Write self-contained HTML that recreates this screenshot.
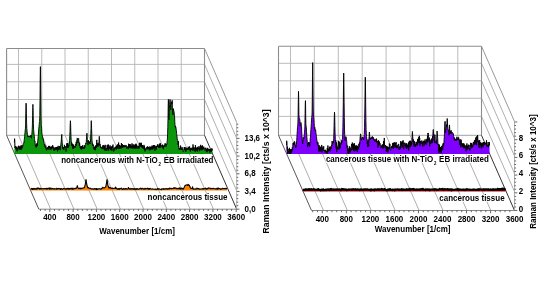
<!DOCTYPE html>
<html><head><meta charset="utf-8"><style>html,body{margin:0;padding:0;background:#fff;width:550px;height:281px;overflow:hidden}svg{display:block}text{fill:#000}</style></head>
<body><svg width="550" height="281" viewBox="0 0 550 281" font-family="&quot;Liberation Sans&quot;, Arial, sans-serif" font-weight="bold">
<rect width="550" height="281" fill="#fff"/>
<line x1="18.5" y1="48.5" x2="18.5" y2="135.3" stroke="#b4b4b4" stroke-width="0.9"/>
<line x1="41.75" y1="48.5" x2="41.75" y2="135.3" stroke="#b4b4b4" stroke-width="0.9"/>
<line x1="65" y1="48.5" x2="65" y2="135.3" stroke="#b4b4b4" stroke-width="0.9"/>
<line x1="88.25" y1="48.5" x2="88.25" y2="135.3" stroke="#b4b4b4" stroke-width="0.9"/>
<line x1="111.5" y1="48.5" x2="111.5" y2="135.3" stroke="#b4b4b4" stroke-width="0.9"/>
<line x1="134.75" y1="48.5" x2="134.75" y2="135.3" stroke="#b4b4b4" stroke-width="0.9"/>
<line x1="158" y1="48.5" x2="158" y2="135.3" stroke="#b4b4b4" stroke-width="0.9"/>
<line x1="181.25" y1="48.5" x2="181.25" y2="135.3" stroke="#b4b4b4" stroke-width="0.9"/>
<line x1="6.6" y1="116.9" x2="204.5" y2="116.9" stroke="#b4b4b4" stroke-width="0.9"/>
<line x1="6.6" y1="99.5" x2="204.5" y2="99.5" stroke="#b4b4b4" stroke-width="0.9"/>
<line x1="6.6" y1="81.8" x2="204.5" y2="81.8" stroke="#b4b4b4" stroke-width="0.9"/>
<line x1="6.6" y1="64.4" x2="204.5" y2="64.4" stroke="#b4b4b4" stroke-width="0.9"/>
<line x1="6.6" y1="135.3" x2="204.5" y2="135.3" stroke="#b4b4b4" stroke-width="1.2"/>
<line x1="18.5" y1="135.3" x2="50.7" y2="209.2" stroke="#9a9a9a" stroke-width="0.8"/>
<line x1="41.75" y1="135.3" x2="73.95" y2="209.2" stroke="#9a9a9a" stroke-width="0.8"/>
<line x1="65" y1="135.3" x2="97.2" y2="209.2" stroke="#9a9a9a" stroke-width="0.8"/>
<line x1="88.25" y1="135.3" x2="120.45" y2="209.2" stroke="#9a9a9a" stroke-width="0.8"/>
<line x1="111.5" y1="135.3" x2="143.7" y2="209.2" stroke="#9a9a9a" stroke-width="0.8"/>
<line x1="134.75" y1="135.3" x2="166.95" y2="209.2" stroke="#9a9a9a" stroke-width="0.8"/>
<line x1="158" y1="135.3" x2="190.2" y2="209.2" stroke="#9a9a9a" stroke-width="0.8"/>
<line x1="181.25" y1="135.3" x2="213.45" y2="209.2" stroke="#9a9a9a" stroke-width="0.8"/>
<line x1="204.5" y1="116.9" x2="236.7" y2="190.8" stroke="#9a9a9a" stroke-width="0.8"/>
<line x1="204.5" y1="99.5" x2="236.7" y2="173.4" stroke="#9a9a9a" stroke-width="0.8"/>
<line x1="204.5" y1="81.8" x2="236.7" y2="155.7" stroke="#9a9a9a" stroke-width="0.8"/>
<line x1="204.5" y1="64.4" x2="236.7" y2="138.3" stroke="#9a9a9a" stroke-width="0.8"/>
<line x1="6.6" y1="48.5" x2="204.5" y2="48.5" stroke="#8c8c8c" stroke-width="1.1"/>
<line x1="6.6" y1="48.5" x2="6.6" y2="135.3" stroke="#8c8c8c" stroke-width="1.1"/>
<line x1="204.5" y1="48.5" x2="204.5" y2="135.3" stroke="#8c8c8c" stroke-width="1.1"/>
<line x1="204.5" y1="48.5" x2="236.7" y2="122.4" stroke="#8c8c8c" stroke-width="0.9"/>
<line x1="6.6" y1="135.3" x2="38.8" y2="209.2" stroke="#444" stroke-width="0.9"/>
<line x1="204.5" y1="135.3" x2="236.7" y2="209.2" stroke="#333" stroke-width="1.0"/>
<line x1="290.5" y1="46.3" x2="290.5" y2="135.3" stroke="#b4b4b4" stroke-width="0.9"/>
<line x1="314.4" y1="46.3" x2="314.4" y2="135.3" stroke="#b4b4b4" stroke-width="0.9"/>
<line x1="338.3" y1="46.3" x2="338.3" y2="135.3" stroke="#b4b4b4" stroke-width="0.9"/>
<line x1="362.2" y1="46.3" x2="362.2" y2="135.3" stroke="#b4b4b4" stroke-width="0.9"/>
<line x1="386.1" y1="46.3" x2="386.1" y2="135.3" stroke="#b4b4b4" stroke-width="0.9"/>
<line x1="410" y1="46.3" x2="410" y2="135.3" stroke="#b4b4b4" stroke-width="0.9"/>
<line x1="433.9" y1="46.3" x2="433.9" y2="135.3" stroke="#b4b4b4" stroke-width="0.9"/>
<line x1="457.8" y1="46.3" x2="457.8" y2="135.3" stroke="#b4b4b4" stroke-width="0.9"/>
<line x1="278.5" y1="116.4" x2="481.5" y2="116.4" stroke="#b4b4b4" stroke-width="0.9"/>
<line x1="278.5" y1="98.3" x2="481.5" y2="98.3" stroke="#b4b4b4" stroke-width="0.9"/>
<line x1="278.5" y1="80.8" x2="481.5" y2="80.8" stroke="#b4b4b4" stroke-width="0.9"/>
<line x1="278.5" y1="63.3" x2="481.5" y2="63.3" stroke="#b4b4b4" stroke-width="0.9"/>
<line x1="278.5" y1="135.3" x2="481.5" y2="135.3" stroke="#b4b4b4" stroke-width="1.2"/>
<line x1="290.5" y1="135.3" x2="323.5" y2="210.5" stroke="#9a9a9a" stroke-width="0.8"/>
<line x1="314.4" y1="135.3" x2="347.4" y2="210.5" stroke="#9a9a9a" stroke-width="0.8"/>
<line x1="338.3" y1="135.3" x2="371.3" y2="210.5" stroke="#9a9a9a" stroke-width="0.8"/>
<line x1="362.2" y1="135.3" x2="395.2" y2="210.5" stroke="#9a9a9a" stroke-width="0.8"/>
<line x1="386.1" y1="135.3" x2="419.1" y2="210.5" stroke="#9a9a9a" stroke-width="0.8"/>
<line x1="410" y1="135.3" x2="443" y2="210.5" stroke="#9a9a9a" stroke-width="0.8"/>
<line x1="433.9" y1="135.3" x2="466.9" y2="210.5" stroke="#9a9a9a" stroke-width="0.8"/>
<line x1="457.8" y1="135.3" x2="490.8" y2="210.5" stroke="#9a9a9a" stroke-width="0.8"/>
<line x1="481.5" y1="116.4" x2="514.5" y2="191.6" stroke="#9a9a9a" stroke-width="0.8"/>
<line x1="481.5" y1="98.3" x2="514.5" y2="173.5" stroke="#9a9a9a" stroke-width="0.8"/>
<line x1="481.5" y1="80.8" x2="514.5" y2="156" stroke="#9a9a9a" stroke-width="0.8"/>
<line x1="481.5" y1="63.3" x2="514.5" y2="138.5" stroke="#9a9a9a" stroke-width="0.8"/>
<line x1="278.5" y1="46.3" x2="481.5" y2="46.3" stroke="#8c8c8c" stroke-width="1.1"/>
<line x1="278.5" y1="46.3" x2="278.5" y2="135.3" stroke="#8c8c8c" stroke-width="1.1"/>
<line x1="481.5" y1="46.3" x2="481.5" y2="135.3" stroke="#8c8c8c" stroke-width="1.1"/>
<line x1="481.5" y1="46.3" x2="514.5" y2="121.5" stroke="#8c8c8c" stroke-width="0.9"/>
<line x1="278.5" y1="135.3" x2="311.5" y2="210.5" stroke="#444" stroke-width="0.9"/>
<line x1="481.5" y1="135.3" x2="514.5" y2="210.5" stroke="#333" stroke-width="1.0"/>
<path d="M14.4,154.1 14.4,142.38 14.6,138.64 14.8,141.08 15,147.76 15.2,146.83 15.4,147.23 15.6,146.11 15.8,149.15 16,147.82 16.2,146.87 16.4,148.69 16.6,148.59 16.8,146.74 17,151.21 17.2,147.81 17.4,150.04 17.6,147.96 17.8,150.09 18,147.82 18.2,148.29 18.4,145.77 18.6,146.98 18.8,148 19,147.41 19.2,145.94 19.4,146.58 19.6,149.53 19.8,147.76 20,148.79 20.2,147.26 20.4,149.87 20.6,148.92 20.8,145.51 21,149.99 21.2,148.22 21.4,147.11 21.6,146.26 21.8,148.54 22,144.95 22.2,147.48 22.4,147.5 22.6,146.6 22.8,146.44 23,146.14 23.2,145.18 23.4,144.67 23.6,143.87 23.8,142.37 24,142.64 24.2,139.59 24.4,139.23 24.6,136.35 24.8,135.06 25,132.32 25.2,130.24 25.4,128.88 25.6,124.2 25.8,112.99 26,103.42 26.1,103.1 26.2,103.83 26.4,113.13 26.6,122.69 26.8,128.59 27,130.29 27.2,132.31 27.4,134.34 27.6,136.52 27.8,137.08 28,136.49 28.2,136.7 28.4,135.9 28.6,136.39 28.8,137.08 29,136.38 29.2,136.07 29.4,136.78 29.6,136.46 29.8,136.38 30,136.76 30.2,135.87 30.4,135.89 30.6,136.85 30.8,135.33 31,136.6 31.2,137.76 31.4,138.22 31.6,136.24 31.8,134.38 32,132.14 32.2,129.58 32.4,124.9 32.6,115.78 32.8,107.7 32.9,104.33 33,107.38 33.2,115.24 33.4,123.54 33.6,129.81 33.8,131.32 34,134.07 34.2,134.98 34.4,138.17 34.6,139.43 34.8,141.71 35,141.33 35.2,144.42 35.4,146.18 35.6,146.36 35.8,144.65 36,145.31 36.2,147.54 36.4,144.44 36.6,143.62 36.8,144.76 37,146.08 37.2,143.52 37.4,145.95 37.6,141.81 37.8,140.83 38,138.45 38.2,136.41 38.4,134.11 38.6,130.13 38.8,128.37 39,126.4 39.2,124.42 39.4,121.89 39.6,121.43 39.8,115.36 40,99.36 40.2,78.59 40.4,66.61 40.6,78.89 40.8,100.07 41,116.3 41.2,124.31 41.4,126.4 41.6,128.37 41.8,132.34 42,134.13 42.2,135.48 42.4,135.56 42.6,136.74 42.8,137.9 43,137.81 43.2,139.56 43.4,139.32 43.6,141.92 43.8,141.73 44,142.45 44.2,144.41 44.4,144.1 44.6,145.34 44.8,146.24 45,144.71 45.2,147.15 45.4,146.9 45.6,148.25 45.8,146.3 46,147.85 46.2,147.69 46.4,149.82 46.6,150.33 46.8,149.4 47,148.05 47.2,148.59 47.4,147.61 47.6,148.73 47.8,147.33 48,149.24 48.2,149.71 48.4,149.36 48.6,146.27 48.8,148.04 49,145.8 49.2,147.19 49.4,146.31 49.6,147.92 49.8,146.44 50,146.35 50.2,149.98 50.4,147.65 50.6,147 50.8,148.64 51,148.04 51.2,148.99 51.4,146.51 51.6,149.33 51.8,147.04 52,146.77 52.2,148.25 52.4,148.04 52.6,145.1 52.8,145.83 53,147.28 53.2,146.75 53.4,148.22 53.6,149.46 53.8,150.43 54,147.32 54.2,147.98 54.4,150.27 54.6,150.09 54.8,148.44 55,150.26 55.2,148.67 55.4,148.21 55.6,147.37 55.8,148.88 56,149.29 56.2,147.39 56.4,147.03 56.6,149.79 56.8,147.17 57,149.08 57.2,146.93 57.4,148.14 57.6,151.32 57.8,148.26 58,146.43 58.2,145.83 58.4,149.87 58.6,148.18 58.8,149.61 59,148.77 59.2,148.53 59.4,146.2 59.6,147.72 59.8,146.75 60,149.12 60.2,150.16 60.4,146.09 60.6,146.14 60.8,145.11 61,142.93 61.2,142.03 61.4,138.79 61.6,135.84 61.7,134.46 61.8,134.42 62,139.36 62.2,142.7 62.4,145.06 62.6,148.42 62.8,148.5 63,147.52 63.2,148.55 63.4,147.03 63.6,147.69 63.8,150.01 64,147.28 64.2,147.22 64.4,144.87 64.6,147.7 64.8,147.34 65,147.6 65.2,147.12 65.4,147.28 65.6,146.34 65.8,148.88 66,151.52 66.2,150.44 66.4,148.47 66.6,147.35 66.8,143.38 67,145.71 67.2,148.08 67.4,143.07 67.6,146.93 67.8,143.56 68,144.57 68.2,147.84 68.4,147.2 68.6,145.5 68.8,146.23 69,144.36 69.2,144.06 69.4,142.97 69.6,140.76 69.8,135.53 70,131.05 70.2,124.46 70.4,120.73 70.6,123.64 70.8,131.28 71,136.55 71.2,140.38 71.4,141.38 71.6,145.05 71.8,142.8 72,146.12 72.2,144.51 72.4,143.92 72.6,146.82 72.8,148.49 73,145.77 73.2,148.23 73.4,148.91 73.6,144.49 73.8,146.66 74,146.19 74.2,146.76 74.4,147.43 74.6,147.36 74.8,146.09 75,146.21 75.2,147.55 75.4,147.48 75.6,147.57 75.8,143.84 76,145.85 76.2,141.83 76.4,143.21 76.6,143.94 76.8,140.14 77,140.22 77.2,138.64 77.3,137.97 77.4,138.07 77.6,140.22 77.8,142.16 77.9,142.04 78,142.96 78.2,139.4 78.4,139.33 78.5,138.82 78.6,138.27 78.8,140.63 79,142.11 79.2,143.62 79.4,145.78 79.6,142.74 79.8,145.38 80,146.37 80.2,147.55 80.4,146.77 80.6,149.1 80.8,148.89 81,145.95 81.2,147.2 81.4,148.49 81.6,149.61 81.8,146.15 82,148.93 82.2,147.37 82.4,147.88 82.6,145.95 82.8,145.11 83,148.24 83.2,147.35 83.4,147.29 83.6,147.41 83.8,148.51 84,146.79 84.2,147.46 84.4,148.73 84.6,145.4 84.8,147.69 85,145.19 85.2,144.84 85.4,144.5 85.6,144.41 85.8,143.23 86,143.92 86.2,142.13 86.4,139.79 86.6,136.87 86.8,133.37 86.9,133.19 87,133.35 87.2,136.81 87.4,140.92 87.6,142.29 87.8,144.33 88,143.91 88.2,145.08 88.4,140.17 88.6,142.41 88.8,143.01 89,142.49 89.2,141.86 89.4,142.2 89.6,141.51 89.8,143.88 90,142.84 90.2,143.28 90.4,142.28 90.6,138.74 90.8,133.46 91,128.61 91.2,121.81 91.3,120.64 91.4,122.73 91.6,128.62 91.8,134.33 92,140.35 92.2,142.07 92.4,145.17 92.6,143.59 92.8,144.16 93,145.91 93.2,144.66 93.4,146.94 93.6,147.04 93.8,148.32 94,147.61 94.2,149.79 94.4,148.76 94.6,146.66 94.8,146.92 95,149.97 95.2,146.74 95.4,150.23 95.6,145.6 95.8,147.35 96,145.57 96.2,145.29 96.4,148.07 96.6,144.81 96.8,139.85 97,146.43 97.2,143.15 97.4,146.01 97.6,145.25 97.8,145.65 98,146.83 98.2,143.45 98.4,143.51 98.6,145.11 98.8,143.02 99,141.33 99.2,137.98 99.3,136.27 99.4,137.35 99.6,140.85 99.8,145.62 100,144 100.2,145.1 100.4,145.48 100.6,147.89 100.8,147.59 101,146.81 101.2,148.14 101.4,148.16 101.6,147.39 101.8,147.77 102,149.02 102.2,148.12 102.4,147.75 102.6,148.91 102.8,145.32 103,146.89 103.2,148.57 103.4,146.07 103.6,146.33 103.8,144.98 104,147.55 104.2,149.78 104.4,146.23 104.6,148.66 104.8,150.45 105,147.58 105.2,144.84 105.4,148.87 105.6,148.89 105.8,150.71 106,149.43 106.2,148.63 106.4,148.25 106.6,150.84 106.8,150.63 107,147.17 107.2,145 107.4,149.22 107.6,146.79 107.8,145.3 108,148.78 108.2,144.35 108.4,147.08 108.6,150.63 108.8,146.82 109,146.46 109.2,148.42 109.4,147.61 109.6,147.31 109.8,148.22 110,145.3 110.2,148.61 110.4,149.42 110.6,148 110.8,146.46 111,150.15 111.2,149.62 111.4,148.7 111.6,146.55 111.8,150.74 112,149.26 112.2,148.52 112.4,145.93 112.6,147.74 112.8,145.83 113,144.61 113.2,148.43 113.4,148.77 113.6,151.44 113.8,150.14 114,148.14 114.2,148.97 114.4,150.23 114.6,147.97 114.8,148.27 115,147.19 115.2,148.49 115.4,147.79 115.6,148.03 115.8,146.81 116,146.37 116.2,149.59 116.4,148.74 116.6,145.88 116.8,145.45 117,148.12 117.2,147.83 117.4,144.39 117.6,146.81 117.8,148.37 118,147.36 118.2,148.84 118.4,146.06 118.6,142.51 118.8,146.08 119,144.86 119.2,147.09 119.4,148.83 119.6,145 119.8,147.29 120,148.21 120.2,145.94 120.4,145.74 120.6,147.41 120.8,148.57 121,145.98 121.2,146.98 121.4,143.06 121.6,145.94 121.8,147.8 122,147.42 122.2,144.64 122.4,144.04 122.6,147.52 122.8,147.4 123,146.92 123.2,146.09 123.4,145.3 123.6,146.35 123.8,145.22 124,147.26 124.2,145.81 124.4,146.23 124.6,146.09 124.8,146.74 125,144.91 125.2,146.96 125.4,146.01 125.6,146.41 125.8,146.38 126,146.18 126.2,145.26 126.4,146.45 126.6,147.02 126.8,148.59 127,146.22 127.2,146.53 127.4,147.19 127.6,147.88 127.8,147.19 128,146.92 128.2,148.2 128.4,149.02 128.6,143.76 128.8,146.54 129,145.93 129.2,147.47 129.4,144.08 129.6,147.72 129.8,147.3 130,147.5 130.2,147.85 130.4,144.29 130.6,147.81 130.8,147.64 131,146.72 131.2,148.37 131.4,147.97 131.6,145.73 131.8,146.73 132,143.39 132.2,146.68 132.4,145.78 132.6,148.43 132.8,147.83 133,147.77 133.2,144.25 133.4,148.37 133.6,148.01 133.8,145.56 134,147.77 134.2,147.75 134.4,146.95 134.6,145.44 134.8,148.9 135,146.59 135.2,144.08 135.4,146.61 135.6,146.11 135.8,148.47 136,143.68 136.2,148.24 136.4,146.54 136.6,144.66 136.8,146.34 137,147.15 137.2,148.22 137.4,148.63 137.6,147.79 137.8,145.79 138,146.7 138.2,146.15 138.4,148.25 138.6,148.51 138.8,146.48 139,148.32 139.2,145.34 139.4,142.79 139.6,144.15 139.8,145.89 140,146.75 140.2,145.44 140.4,145.98 140.6,143.83 140.8,142.79 141,145.99 141.2,146.55 141.4,142.9 141.6,147.27 141.8,146.33 142,145.81 142.2,145.52 142.4,148.14 142.6,145.03 142.8,147.18 143,148.28 143.2,146.8 143.4,147.35 143.6,149.01 143.8,146.09 144,144.89 144.2,149.35 144.4,146.13 144.6,149.52 144.8,148.56 145,151.32 145.2,149.05 145.4,148.57 145.6,149.42 145.8,149.17 146,149.67 146.2,148.53 146.4,147.19 146.6,148.5 146.8,148.73 147,149.15 147.2,148.34 147.4,146.39 147.6,147.29 147.8,149.25 148,146.93 148.2,147.91 148.4,146.92 148.6,148.18 148.8,147.54 149,149.19 149.2,147.95 149.4,150.35 149.6,149.48 149.8,146.42 150,148.14 150.2,148.01 150.4,147.24 150.6,150.06 150.8,147.29 151,148.7 151.2,146.56 151.4,147 151.6,148.06 151.8,149.36 152,145.71 152.2,145.52 152.4,147.05 152.6,149.36 152.8,146.8 153,146.61 153.2,147.63 153.4,148.53 153.6,145.04 153.8,146.28 154,147.59 154.2,147.82 154.4,145.19 154.6,146.3 154.8,150.96 155,148.75 155.2,149.21 155.4,146.45 155.6,145.85 155.8,146.35 156,146.27 156.2,147.61 156.4,149.51 156.6,146 156.8,146.46 157,146.97 157.2,145.69 157.4,146.42 157.6,144.33 157.8,145.19 158,146.77 158.2,146.97 158.4,146.6 158.6,147.55 158.8,144.8 159,144.6 159.2,145.31 159.4,147.67 159.6,145.92 159.8,143.57 160,146.5 160.2,147.77 160.4,143.27 160.6,145.91 160.8,145.18 161,145.38 161.2,145.33 161.4,145.32 161.6,145.69 161.8,145.94 162,147.2 162.2,146.17 162.4,144.92 162.6,144.63 162.8,148.11 163,146.17 163.2,145.73 163.4,149.24 163.6,146.47 163.8,146.84 164,147.04 164.2,145 164.4,146.49 164.6,144.56 164.8,144.25 165,143.39 165.2,143.28 165.4,144.23 165.6,145 165.8,144.21 166,146.8 166.2,143.96 166.4,144.81 166.6,144.81 166.8,144.14 167,142.66 167.2,140.86 167.4,138.96 167.6,133.38 167.8,127.45 168,118.38 168.2,105.33 168.4,99.42 168.6,106.7 168.8,117.73 169,119.84 169.2,112.82 169.4,108.3 169.6,104.84 169.8,101.4 170,99.43 170.2,100.53 170.4,104.03 170.6,107.81 170.8,109.88 171,105.4 171.2,103.91 171.4,101.97 171.6,101.82 171.8,102.32 172,104 172.2,100.28 172.4,107.46 172.6,113.45 172.8,114.8 173,112.66 173.2,111.42 173.4,108.58 173.6,110.19 173.8,110.39 174,111.56 174.2,112.98 174.4,115.15 174.6,117.31 174.8,121.78 175,124.92 175.2,126.33 175.4,127.36 175.5,126.25 175.6,126.84 175.8,126.77 176,127.91 176.2,130.03 176.4,130.59 176.6,133.4 176.8,134.87 177,136.57 177.2,138.78 177.4,140.29 177.6,140.38 177.8,140.56 178,142.37 178.2,144.75 178.4,141.29 178.6,146.66 178.8,146.13 179,148.38 179.2,149.61 179.4,148.15 179.6,149.45 179.8,149.33 180,148.78 180.2,149.71 180.4,149.41 180.6,145.56 180.8,147.14 181,146.95 181.2,148.46 181.4,148.2 181.6,149.91 181.8,149.26 182,147.57 182.2,147.22 182.4,149.22 182.6,148.74 182.8,149.42 183,149.23 183.2,151.55 183.4,151.55 183.6,150.95 183.8,150.76 184,150.24 184.2,147.15 184.4,148.07 184.6,147.57 184.8,149.84 185,147.02 185.2,148.51 185.4,148.77 185.6,150.82 185.8,151.82 186,147.72 186.2,147.85 186.4,148.7 186.6,148.96 186.8,150.07 187,148.55 187.2,149.72 187.4,149.32 187.6,148.13 187.8,149.49 188,148.86 188.2,146.74 188.4,146.99 188.6,148.9 188.8,148.34 189,148.83 189.2,149.89 189.4,148.64 189.6,146.38 189.8,147.2 190,149.05 190.2,150.75 190.4,151.49 190.6,148.06 190.8,148.62 191,150.09 191.2,149.41 191.4,149.95 191.6,148.29 191.8,148.89 192,147.7 192.2,148.41 192.4,150.06 192.6,150.52 192.8,149.06 193,144.38 193.2,149.1 193.4,148.93 193.6,146.97 193.8,149.91 194,149.32 194.2,150.76 194.4,148.23 194.6,147.62 194.8,147.85 195,148.53 195.2,151.86 195.4,145.12 195.6,148.94 195.8,148.52 196,149.09 196.2,149.83 196.4,147.79 196.6,147.54 196.8,149.37 197,151 197.2,147.99 197.4,151.53 197.6,146.88 197.8,147.18 198,148.95 198.2,148.18 198.4,148.69 198.6,149.32 198.8,148.74 199,146.02 199.2,148.94 199.4,151.15 199.6,147.69 199.8,148.71 200,148.6 200.2,149.68 200.4,148.07 200.6,144.84 200.8,148.28 201,147.5 201.2,150.37 201.4,146.01 201.6,145.89 201.8,148.94 202,148 202.2,147.29 202.4,145.39 202.6,149.94 202.8,146.97 203,147.31 203.2,148.76 203.4,147.25 203.6,148.09 203.8,146.64 204,149.21 204.2,148.45 204.4,148.36 204.6,149.56 204.8,150.58 205,150.45 205.2,149.9 205.4,149.4 205.6,147.77 205.8,148.3 206,150.95 206.2,150.56 206.4,151.44 206.6,149.12 206.8,151.42 207,152.23 207.2,147.8 207.4,151.28 207.6,148.65 207.8,148.15 208,148.58 208.2,149.34 208.4,149.59 208.6,150.95 208.8,148.98 209,149.29 209.2,150.86 209.4,149 209.6,150.44 209.8,152.56 210,150.99 210.2,148.95 210.4,150.23 210.6,150.39 210.8,148.97 211,151.97 211.2,149.65 211.4,149.65 211.6,149.43 211.8,148.3 212,150.73 212.2,149 212.4,148.92 L212.5,154.1Z" fill="#0c960c" stroke="none"/>
<path d="M14.4,142.38 L14.6,138.64 L14.8,141.08 L15,147.76 L15.2,146.83 L15.4,147.23 L15.6,146.11 L15.8,149.15 L16,147.82 L16.2,146.87 L16.4,148.69 L16.6,148.59 L16.8,146.74 L17,151.21 L17.2,147.81 L17.4,150.04 L17.6,147.96 L17.8,150.09 L18,147.82 L18.2,148.29 L18.4,145.77 L18.6,146.98 L18.8,148 L19,147.41 L19.2,145.94 L19.4,146.58 L19.6,149.53 L19.8,147.76 L20,148.79 L20.2,147.26 L20.4,149.87 L20.6,148.92 L20.8,145.51 L21,149.99 L21.2,148.22 L21.4,147.11 L21.6,146.26 L21.8,148.54 L22,144.95 L22.2,147.48 L22.4,147.5 L22.6,146.6 L22.8,146.44 L23,146.14 L23.2,145.18 L23.4,144.67 L23.6,143.87 L23.8,142.37 L24,142.64 L24.2,139.59 L24.4,139.23 L24.6,136.35 L24.8,135.06 L25,132.32 L25.2,130.24 L25.4,128.88 L25.6,124.2 L25.8,112.99 L26,103.42 L26.1,103.1 L26.2,103.83 L26.4,113.13 L26.6,122.69 L26.8,128.59 L27,130.29 L27.2,132.31 L27.4,134.34 L27.6,136.52 L27.8,137.08 L28,136.49 L28.2,136.7 L28.4,135.9 L28.6,136.39 L28.8,137.08 L29,136.38 L29.2,136.07 L29.4,136.78 L29.6,136.46 L29.8,136.38 L30,136.76 L30.2,135.87 L30.4,135.89 L30.6,136.85 L30.8,135.33 L31,136.6 L31.2,137.76 L31.4,138.22 L31.6,136.24 L31.8,134.38 L32,132.14 L32.2,129.58 L32.4,124.9 L32.6,115.78 L32.8,107.7 L32.9,104.33 L33,107.38 L33.2,115.24 L33.4,123.54 L33.6,129.81 L33.8,131.32 L34,134.07 L34.2,134.98 L34.4,138.17 L34.6,139.43 L34.8,141.71 L35,141.33 L35.2,144.42 L35.4,146.18 L35.6,146.36 L35.8,144.65 L36,145.31 L36.2,147.54 L36.4,144.44 L36.6,143.62 L36.8,144.76 L37,146.08 L37.2,143.52 L37.4,145.95 L37.6,141.81 L37.8,140.83 L38,138.45 L38.2,136.41 L38.4,134.11 L38.6,130.13 L38.8,128.37 L39,126.4 L39.2,124.42 L39.4,121.89 L39.6,121.43 L39.8,115.36 L40,99.36 L40.2,78.59 L40.4,66.61 L40.6,78.89 L40.8,100.07 L41,116.3 L41.2,124.31 L41.4,126.4 L41.6,128.37 L41.8,132.34 L42,134.13 L42.2,135.48 L42.4,135.56 L42.6,136.74 L42.8,137.9 L43,137.81 L43.2,139.56 L43.4,139.32 L43.6,141.92 L43.8,141.73 L44,142.45 L44.2,144.41 L44.4,144.1 L44.6,145.34 L44.8,146.24 L45,144.71 L45.2,147.15 L45.4,146.9 L45.6,148.25 L45.8,146.3 L46,147.85 L46.2,147.69 L46.4,149.82 L46.6,150.33 L46.8,149.4 L47,148.05 L47.2,148.59 L47.4,147.61 L47.6,148.73 L47.8,147.33 L48,149.24 L48.2,149.71 L48.4,149.36 L48.6,146.27 L48.8,148.04 L49,145.8 L49.2,147.19 L49.4,146.31 L49.6,147.92 L49.8,146.44 L50,146.35 L50.2,149.98 L50.4,147.65 L50.6,147 L50.8,148.64 L51,148.04 L51.2,148.99 L51.4,146.51 L51.6,149.33 L51.8,147.04 L52,146.77 L52.2,148.25 L52.4,148.04 L52.6,145.1 L52.8,145.83 L53,147.28 L53.2,146.75 L53.4,148.22 L53.6,149.46 L53.8,150.43 L54,147.32 L54.2,147.98 L54.4,150.27 L54.6,150.09 L54.8,148.44 L55,150.26 L55.2,148.67 L55.4,148.21 L55.6,147.37 L55.8,148.88 L56,149.29 L56.2,147.39 L56.4,147.03 L56.6,149.79 L56.8,147.17 L57,149.08 L57.2,146.93 L57.4,148.14 L57.6,151.32 L57.8,148.26 L58,146.43 L58.2,145.83 L58.4,149.87 L58.6,148.18 L58.8,149.61 L59,148.77 L59.2,148.53 L59.4,146.2 L59.6,147.72 L59.8,146.75 L60,149.12 L60.2,150.16 L60.4,146.09 L60.6,146.14 L60.8,145.11 L61,142.93 L61.2,142.03 L61.4,138.79 L61.6,135.84 L61.7,134.46 L61.8,134.42 L62,139.36 L62.2,142.7 L62.4,145.06 L62.6,148.42 L62.8,148.5 L63,147.52 L63.2,148.55 L63.4,147.03 L63.6,147.69 L63.8,150.01 L64,147.28 L64.2,147.22 L64.4,144.87 L64.6,147.7 L64.8,147.34 L65,147.6 L65.2,147.12 L65.4,147.28 L65.6,146.34 L65.8,148.88 L66,151.52 L66.2,150.44 L66.4,148.47 L66.6,147.35 L66.8,143.38 L67,145.71 L67.2,148.08 L67.4,143.07 L67.6,146.93 L67.8,143.56 L68,144.57 L68.2,147.84 L68.4,147.2 L68.6,145.5 L68.8,146.23 L69,144.36 L69.2,144.06 L69.4,142.97 L69.6,140.76 L69.8,135.53 L70,131.05 L70.2,124.46 L70.4,120.73 L70.6,123.64 L70.8,131.28 L71,136.55 L71.2,140.38 L71.4,141.38 L71.6,145.05 L71.8,142.8 L72,146.12 L72.2,144.51 L72.4,143.92 L72.6,146.82 L72.8,148.49 L73,145.77 L73.2,148.23 L73.4,148.91 L73.6,144.49 L73.8,146.66 L74,146.19 L74.2,146.76 L74.4,147.43 L74.6,147.36 L74.8,146.09 L75,146.21 L75.2,147.55 L75.4,147.48 L75.6,147.57 L75.8,143.84 L76,145.85 L76.2,141.83 L76.4,143.21 L76.6,143.94 L76.8,140.14 L77,140.22 L77.2,138.64 L77.3,137.97 L77.4,138.07 L77.6,140.22 L77.8,142.16 L77.9,142.04 L78,142.96 L78.2,139.4 L78.4,139.33 L78.5,138.82 L78.6,138.27 L78.8,140.63 L79,142.11 L79.2,143.62 L79.4,145.78 L79.6,142.74 L79.8,145.38 L80,146.37 L80.2,147.55 L80.4,146.77 L80.6,149.1 L80.8,148.89 L81,145.95 L81.2,147.2 L81.4,148.49 L81.6,149.61 L81.8,146.15 L82,148.93 L82.2,147.37 L82.4,147.88 L82.6,145.95 L82.8,145.11 L83,148.24 L83.2,147.35 L83.4,147.29 L83.6,147.41 L83.8,148.51 L84,146.79 L84.2,147.46 L84.4,148.73 L84.6,145.4 L84.8,147.69 L85,145.19 L85.2,144.84 L85.4,144.5 L85.6,144.41 L85.8,143.23 L86,143.92 L86.2,142.13 L86.4,139.79 L86.6,136.87 L86.8,133.37 L86.9,133.19 L87,133.35 L87.2,136.81 L87.4,140.92 L87.6,142.29 L87.8,144.33 L88,143.91 L88.2,145.08 L88.4,140.17 L88.6,142.41 L88.8,143.01 L89,142.49 L89.2,141.86 L89.4,142.2 L89.6,141.51 L89.8,143.88 L90,142.84 L90.2,143.28 L90.4,142.28 L90.6,138.74 L90.8,133.46 L91,128.61 L91.2,121.81 L91.3,120.64 L91.4,122.73 L91.6,128.62 L91.8,134.33 L92,140.35 L92.2,142.07 L92.4,145.17 L92.6,143.59 L92.8,144.16 L93,145.91 L93.2,144.66 L93.4,146.94 L93.6,147.04 L93.8,148.32 L94,147.61 L94.2,149.79 L94.4,148.76 L94.6,146.66 L94.8,146.92 L95,149.97 L95.2,146.74 L95.4,150.23 L95.6,145.6 L95.8,147.35 L96,145.57 L96.2,145.29 L96.4,148.07 L96.6,144.81 L96.8,139.85 L97,146.43 L97.2,143.15 L97.4,146.01 L97.6,145.25 L97.8,145.65 L98,146.83 L98.2,143.45 L98.4,143.51 L98.6,145.11 L98.8,143.02 L99,141.33 L99.2,137.98 L99.3,136.27 L99.4,137.35 L99.6,140.85 L99.8,145.62 L100,144 L100.2,145.1 L100.4,145.48 L100.6,147.89 L100.8,147.59 L101,146.81 L101.2,148.14 L101.4,148.16 L101.6,147.39 L101.8,147.77 L102,149.02 L102.2,148.12 L102.4,147.75 L102.6,148.91 L102.8,145.32 L103,146.89 L103.2,148.57 L103.4,146.07 L103.6,146.33 L103.8,144.98 L104,147.55 L104.2,149.78 L104.4,146.23 L104.6,148.66 L104.8,150.45 L105,147.58 L105.2,144.84 L105.4,148.87 L105.6,148.89 L105.8,150.71 L106,149.43 L106.2,148.63 L106.4,148.25 L106.6,150.84 L106.8,150.63 L107,147.17 L107.2,145 L107.4,149.22 L107.6,146.79 L107.8,145.3 L108,148.78 L108.2,144.35 L108.4,147.08 L108.6,150.63 L108.8,146.82 L109,146.46 L109.2,148.42 L109.4,147.61 L109.6,147.31 L109.8,148.22 L110,145.3 L110.2,148.61 L110.4,149.42 L110.6,148 L110.8,146.46 L111,150.15 L111.2,149.62 L111.4,148.7 L111.6,146.55 L111.8,150.74 L112,149.26 L112.2,148.52 L112.4,145.93 L112.6,147.74 L112.8,145.83 L113,144.61 L113.2,148.43 L113.4,148.77 L113.6,151.44 L113.8,150.14 L114,148.14 L114.2,148.97 L114.4,150.23 L114.6,147.97 L114.8,148.27 L115,147.19 L115.2,148.49 L115.4,147.79 L115.6,148.03 L115.8,146.81 L116,146.37 L116.2,149.59 L116.4,148.74 L116.6,145.88 L116.8,145.45 L117,148.12 L117.2,147.83 L117.4,144.39 L117.6,146.81 L117.8,148.37 L118,147.36 L118.2,148.84 L118.4,146.06 L118.6,142.51 L118.8,146.08 L119,144.86 L119.2,147.09 L119.4,148.83 L119.6,145 L119.8,147.29 L120,148.21 L120.2,145.94 L120.4,145.74 L120.6,147.41 L120.8,148.57 L121,145.98 L121.2,146.98 L121.4,143.06 L121.6,145.94 L121.8,147.8 L122,147.42 L122.2,144.64 L122.4,144.04 L122.6,147.52 L122.8,147.4 L123,146.92 L123.2,146.09 L123.4,145.3 L123.6,146.35 L123.8,145.22 L124,147.26 L124.2,145.81 L124.4,146.23 L124.6,146.09 L124.8,146.74 L125,144.91 L125.2,146.96 L125.4,146.01 L125.6,146.41 L125.8,146.38 L126,146.18 L126.2,145.26 L126.4,146.45 L126.6,147.02 L126.8,148.59 L127,146.22 L127.2,146.53 L127.4,147.19 L127.6,147.88 L127.8,147.19 L128,146.92 L128.2,148.2 L128.4,149.02 L128.6,143.76 L128.8,146.54 L129,145.93 L129.2,147.47 L129.4,144.08 L129.6,147.72 L129.8,147.3 L130,147.5 L130.2,147.85 L130.4,144.29 L130.6,147.81 L130.8,147.64 L131,146.72 L131.2,148.37 L131.4,147.97 L131.6,145.73 L131.8,146.73 L132,143.39 L132.2,146.68 L132.4,145.78 L132.6,148.43 L132.8,147.83 L133,147.77 L133.2,144.25 L133.4,148.37 L133.6,148.01 L133.8,145.56 L134,147.77 L134.2,147.75 L134.4,146.95 L134.6,145.44 L134.8,148.9 L135,146.59 L135.2,144.08 L135.4,146.61 L135.6,146.11 L135.8,148.47 L136,143.68 L136.2,148.24 L136.4,146.54 L136.6,144.66 L136.8,146.34 L137,147.15 L137.2,148.22 L137.4,148.63 L137.6,147.79 L137.8,145.79 L138,146.7 L138.2,146.15 L138.4,148.25 L138.6,148.51 L138.8,146.48 L139,148.32 L139.2,145.34 L139.4,142.79 L139.6,144.15 L139.8,145.89 L140,146.75 L140.2,145.44 L140.4,145.98 L140.6,143.83 L140.8,142.79 L141,145.99 L141.2,146.55 L141.4,142.9 L141.6,147.27 L141.8,146.33 L142,145.81 L142.2,145.52 L142.4,148.14 L142.6,145.03 L142.8,147.18 L143,148.28 L143.2,146.8 L143.4,147.35 L143.6,149.01 L143.8,146.09 L144,144.89 L144.2,149.35 L144.4,146.13 L144.6,149.52 L144.8,148.56 L145,151.32 L145.2,149.05 L145.4,148.57 L145.6,149.42 L145.8,149.17 L146,149.67 L146.2,148.53 L146.4,147.19 L146.6,148.5 L146.8,148.73 L147,149.15 L147.2,148.34 L147.4,146.39 L147.6,147.29 L147.8,149.25 L148,146.93 L148.2,147.91 L148.4,146.92 L148.6,148.18 L148.8,147.54 L149,149.19 L149.2,147.95 L149.4,150.35 L149.6,149.48 L149.8,146.42 L150,148.14 L150.2,148.01 L150.4,147.24 L150.6,150.06 L150.8,147.29 L151,148.7 L151.2,146.56 L151.4,147 L151.6,148.06 L151.8,149.36 L152,145.71 L152.2,145.52 L152.4,147.05 L152.6,149.36 L152.8,146.8 L153,146.61 L153.2,147.63 L153.4,148.53 L153.6,145.04 L153.8,146.28 L154,147.59 L154.2,147.82 L154.4,145.19 L154.6,146.3 L154.8,150.96 L155,148.75 L155.2,149.21 L155.4,146.45 L155.6,145.85 L155.8,146.35 L156,146.27 L156.2,147.61 L156.4,149.51 L156.6,146 L156.8,146.46 L157,146.97 L157.2,145.69 L157.4,146.42 L157.6,144.33 L157.8,145.19 L158,146.77 L158.2,146.97 L158.4,146.6 L158.6,147.55 L158.8,144.8 L159,144.6 L159.2,145.31 L159.4,147.67 L159.6,145.92 L159.8,143.57 L160,146.5 L160.2,147.77 L160.4,143.27 L160.6,145.91 L160.8,145.18 L161,145.38 L161.2,145.33 L161.4,145.32 L161.6,145.69 L161.8,145.94 L162,147.2 L162.2,146.17 L162.4,144.92 L162.6,144.63 L162.8,148.11 L163,146.17 L163.2,145.73 L163.4,149.24 L163.6,146.47 L163.8,146.84 L164,147.04 L164.2,145 L164.4,146.49 L164.6,144.56 L164.8,144.25 L165,143.39 L165.2,143.28 L165.4,144.23 L165.6,145 L165.8,144.21 L166,146.8 L166.2,143.96 L166.4,144.81 L166.6,144.81 L166.8,144.14 L167,142.66 L167.2,140.86 L167.4,138.96 L167.6,133.38 L167.8,127.45 L168,118.38 L168.2,105.33 L168.4,99.42 L168.6,106.7 L168.8,117.73 L169,119.84 L169.2,112.82 L169.4,108.3 L169.6,104.84 L169.8,101.4 L170,99.43 L170.2,100.53 L170.4,104.03 L170.6,107.81 L170.8,109.88 L171,105.4 L171.2,103.91 L171.4,101.97 L171.6,101.82 L171.8,102.32 L172,104 L172.2,100.28 L172.4,107.46 L172.6,113.45 L172.8,114.8 L173,112.66 L173.2,111.42 L173.4,108.58 L173.6,110.19 L173.8,110.39 L174,111.56 L174.2,112.98 L174.4,115.15 L174.6,117.31 L174.8,121.78 L175,124.92 L175.2,126.33 L175.4,127.36 L175.5,126.25 L175.6,126.84 L175.8,126.77 L176,127.91 L176.2,130.03 L176.4,130.59 L176.6,133.4 L176.8,134.87 L177,136.57 L177.2,138.78 L177.4,140.29 L177.6,140.38 L177.8,140.56 L178,142.37 L178.2,144.75 L178.4,141.29 L178.6,146.66 L178.8,146.13 L179,148.38 L179.2,149.61 L179.4,148.15 L179.6,149.45 L179.8,149.33 L180,148.78 L180.2,149.71 L180.4,149.41 L180.6,145.56 L180.8,147.14 L181,146.95 L181.2,148.46 L181.4,148.2 L181.6,149.91 L181.8,149.26 L182,147.57 L182.2,147.22 L182.4,149.22 L182.6,148.74 L182.8,149.42 L183,149.23 L183.2,151.55 L183.4,151.55 L183.6,150.95 L183.8,150.76 L184,150.24 L184.2,147.15 L184.4,148.07 L184.6,147.57 L184.8,149.84 L185,147.02 L185.2,148.51 L185.4,148.77 L185.6,150.82 L185.8,151.82 L186,147.72 L186.2,147.85 L186.4,148.7 L186.6,148.96 L186.8,150.07 L187,148.55 L187.2,149.72 L187.4,149.32 L187.6,148.13 L187.8,149.49 L188,148.86 L188.2,146.74 L188.4,146.99 L188.6,148.9 L188.8,148.34 L189,148.83 L189.2,149.89 L189.4,148.64 L189.6,146.38 L189.8,147.2 L190,149.05 L190.2,150.75 L190.4,151.49 L190.6,148.06 L190.8,148.62 L191,150.09 L191.2,149.41 L191.4,149.95 L191.6,148.29 L191.8,148.89 L192,147.7 L192.2,148.41 L192.4,150.06 L192.6,150.52 L192.8,149.06 L193,144.38 L193.2,149.1 L193.4,148.93 L193.6,146.97 L193.8,149.91 L194,149.32 L194.2,150.76 L194.4,148.23 L194.6,147.62 L194.8,147.85 L195,148.53 L195.2,151.86 L195.4,145.12 L195.6,148.94 L195.8,148.52 L196,149.09 L196.2,149.83 L196.4,147.79 L196.6,147.54 L196.8,149.37 L197,151 L197.2,147.99 L197.4,151.53 L197.6,146.88 L197.8,147.18 L198,148.95 L198.2,148.18 L198.4,148.69 L198.6,149.32 L198.8,148.74 L199,146.02 L199.2,148.94 L199.4,151.15 L199.6,147.69 L199.8,148.71 L200,148.6 L200.2,149.68 L200.4,148.07 L200.6,144.84 L200.8,148.28 L201,147.5 L201.2,150.37 L201.4,146.01 L201.6,145.89 L201.8,148.94 L202,148 L202.2,147.29 L202.4,145.39 L202.6,149.94 L202.8,146.97 L203,147.31 L203.2,148.76 L203.4,147.25 L203.6,148.09 L203.8,146.64 L204,149.21 L204.2,148.45 L204.4,148.36 L204.6,149.56 L204.8,150.58 L205,150.45 L205.2,149.9 L205.4,149.4 L205.6,147.77 L205.8,148.3 L206,150.95 L206.2,150.56 L206.4,151.44 L206.6,149.12 L206.8,151.42 L207,152.23 L207.2,147.8 L207.4,151.28 L207.6,148.65 L207.8,148.15 L208,148.58 L208.2,149.34 L208.4,149.59 L208.6,150.95 L208.8,148.98 L209,149.29 L209.2,150.86 L209.4,149 L209.6,150.44 L209.8,152.56 L210,150.99 L210.2,148.95 L210.4,150.23 L210.6,150.39 L210.8,148.97 L211,151.97 L211.2,149.65 L211.4,149.65 L211.6,149.43 L211.8,148.3 L212,150.73 L212.2,149 L212.4,148.92" fill="none" stroke="#000" stroke-width="0.9" stroke-linejoin="round"/>
<path d="M30.5,190.6 30.5,189.46 30.9,189.31 31.3,188.65 31.7,188.41 32.1,188.48 32.5,189.48 32.9,188.55 33.3,189.12 33.7,188.42 34.1,188.34 34.5,189.15 34.9,188.78 35.3,188.9 35.7,188.69 36.1,189.39 36.5,188.56 36.9,188.21 37.3,188 37.7,188.97 38.1,187.84 38.5,188.27 38.9,188.41 39.3,188.56 39.7,189.07 40.1,188.18 40.5,188.59 40.9,189.03 41.3,188.77 41.7,188.86 42.1,188.51 42.5,188.73 42.9,188.74 43.3,188.8 43.7,188.88 44.1,188.53 44.5,188.86 44.9,188.67 45.3,188.45 45.7,188.74 46.1,188.43 46.5,188.91 46.9,188.26 47.3,189.1 47.7,188.53 48.1,188.45 48.5,188.07 48.9,188.37 49.3,189.24 49.7,187.83 50.1,188.81 50.5,188.85 50.9,188.02 51.3,188.99 51.7,188.85 52.1,188.9 52.5,188.44 52.9,188.69 53.3,188.85 53.7,188.91 54.1,188.64 54.5,189.17 54.9,188.89 55.3,188.83 55.7,188.71 56.1,188.93 56.5,189.15 56.9,188.15 57.3,189.02 57.7,188.78 58.1,188.55 58.5,188.73 58.9,188.44 59.3,188.89 59.7,188.66 60.1,188.81 60.5,189.49 60.9,188.53 61.3,188.91 61.7,188.68 62.1,188.91 62.5,189.43 62.9,188.99 63.3,188.62 63.7,188.43 64.1,188.75 64.5,188.87 64.9,188.84 65.3,189.15 65.7,188.7 66.1,188.57 66.5,189.05 66.9,188.74 67.3,188.64 67.7,188.27 68.1,189.24 68.5,188.26 68.9,188.89 69.3,188.46 69.7,189.15 70.1,188.97 70.5,188.35 70.9,188.79 71.3,188.16 71.7,188.92 72.1,188.86 72.5,189.29 72.9,187.99 73.3,189.03 73.7,188.84 74.1,188.99 74.5,188.49 74.9,188.37 75.3,188.22 75.7,188.72 76.1,187.93 76.5,188.04 76.9,187.15 77.3,185.55 77.7,187.11 78.1,188.15 78.5,188.33 78.9,188.75 79.3,188.35 79.7,188.54 80.1,188 80.5,188.69 80.9,188.59 81.3,188.5 81.7,188.14 82.1,188.36 82.5,188.22 82.9,188.06 83.3,188.07 83.7,187.73 84.1,187.81 84.5,187.69 84.9,185.61 85.3,184.34 85.7,181.01 86,179.65 86.1,179.72 86.5,182.6 86.9,184.83 87.3,186.55 87.7,187.71 88.1,187.44 88.5,187.6 88.9,188.25 89.3,188.28 89.7,188.34 90.1,188.1 90.5,188.57 90.9,188.76 91.3,188.73 91.7,188.69 92.1,189.12 92.5,188.81 92.9,189.06 93.3,188.94 93.7,189.24 94.1,188.64 94.5,188.5 94.9,189.02 95.3,189.26 95.7,188.72 96.1,188.53 96.5,189.58 96.9,188.54 97.3,188.98 97.7,189.43 98.1,189.01 98.5,188.9 98.9,188.79 99.3,188.79 99.7,188.76 100.1,188.9 100.5,189.14 100.9,189.16 101.3,188.26 101.7,188.68 102.1,188.23 102.5,188.03 102.9,187.19 103.3,187.56 103.7,188 104.1,188 104.5,187.92 104.9,187.45 105.3,187.32 105.7,186.81 106.1,185.11 106.5,182.88 106.9,179.93 107,179.53 107.3,181.04 107.7,184.32 108.1,186.21 108.5,186.72 108.9,188.07 109.3,187.3 109.7,187.87 110.1,188.13 110.5,187.64 110.9,188.09 111.3,188.35 111.7,188.4 112.1,187.92 112.5,188.58 112.9,188.26 113.3,188.37 113.7,188.43 114.1,188.39 114.5,188.08 114.9,188.18 115.3,188.38 115.7,186.96 116.1,188.62 116.5,188.64 116.9,188.4 117.3,189.1 117.7,189.03 118.1,189.19 118.5,188.55 118.9,188.9 119.3,189.39 119.7,188.42 120.1,188.43 120.5,188.6 120.9,188.93 121.3,188 121.7,188.46 122.1,188.89 122.5,189.52 122.9,189.38 123.3,188.79 123.7,188.38 124.1,188.66 124.5,189.14 124.9,189.02 125.3,188.46 125.7,189.14 126.1,188.62 126.5,188.7 126.9,189.1 127.3,189.15 127.7,188.79 128.1,188.29 128.5,187.56 128.9,188.67 129.3,189.14 129.7,189.04 130.1,188.45 130.5,188.81 130.9,189.29 131.3,188.7 131.7,189 132.1,188.51 132.5,188.93 132.9,189.02 133.3,188.75 133.7,189.35 134.1,188.53 134.5,188.79 134.9,189.44 135.3,188.76 135.7,189.09 136.1,188.79 136.5,189.39 136.9,188.6 137.3,188.56 137.7,188.89 138.1,189.41 138.5,189.13 138.9,189.23 139.3,188.72 139.7,188.52 140.1,188.63 140.5,188.14 140.9,188.58 141.3,188.78 141.7,189.15 142.1,188.16 142.5,188.62 142.9,188.78 143.3,188.8 143.7,188.66 144.1,189.37 144.5,189.11 144.9,188.38 145.3,188.4 145.7,188.97 146.1,188.9 146.5,188.59 146.9,188.59 147.3,188.19 147.7,188.8 148.1,188.28 148.5,188.66 148.9,189.4 149.3,188.59 149.7,188.95 150.1,188.34 150.5,188.79 150.9,189.01 151.3,189.1 151.7,188.91 152.1,189.11 152.5,188.87 152.9,188.76 153.3,189.27 153.7,189.25 154.1,189.18 154.5,189.15 154.9,189.11 155.3,189.04 155.7,188.95 156.1,189.72 156.5,189.23 156.9,189.11 157.3,188.87 157.7,188.43 158.1,189.59 158.5,188.84 158.9,188.78 159.3,188.78 159.7,189.18 160.1,189.16 160.5,189.4 160.9,189.58 161.3,189.78 161.7,188.79 162.1,188.92 162.5,188.99 162.9,188.69 163.3,189.2 163.7,188.66 164.1,189.23 164.5,189.34 164.9,188.66 165.3,188.95 165.7,188.92 166.1,188.51 166.5,188.93 166.9,188.72 167.3,189.08 167.7,188.73 168.1,189.27 168.5,188.67 168.9,188.77 169.3,188.08 169.7,188.87 170.1,188.34 170.5,188.3 170.9,188.65 171.3,188.8 171.7,188.31 172.1,188.56 172.5,188.48 172.9,188.74 173.3,188.16 173.7,187.94 174,187.61 174.1,188.37 174.5,187.88 174.9,188.12 175.3,187.76 175.7,188.22 176.1,188.55 176.5,188.6 176.9,188.18 177.3,188.64 177.7,188.84 178.1,188.73 178.5,188.41 178.9,188.64 179.3,187.81 179.7,187.92 180.1,189.12 180.5,188.13 180.9,188.84 181.3,188.1 181.7,188.58 182.1,188.93 182.5,188.21 182.9,188.76 183.3,189.13 183.7,188.35 184.1,187.45 184.5,186.68 184.9,185.59 185.3,185.5 185.7,185.11 186.1,184.84 186.5,184.93 186.9,184.96 187.1,185.09 187.3,185.02 187.7,185.41 188.1,184.31 188.5,184.68 188.9,185.32 189.3,185.68 189.5,185.25 189.7,186.29 190.1,187.32 190.5,187.88 190.9,188.55 191.3,188.44 191.7,188.59 192.1,188.85 192.5,186.69 192.9,188.48 193.3,188.51 193.7,189.18 194.1,189.15 194.5,188.98 194.9,189 195.3,188.81 195.7,189.02 196.1,189.25 196.5,188.7 196.9,188.03 197.3,188.65 197.7,188.57 198.1,188.99 198.5,188.6 198.9,188.53 199.3,188.98 199.7,189.21 200.1,188.94 200.5,189.09 200.9,188.96 201.3,189.06 201.7,189.03 202.1,188.51 202.5,188.76 202.9,189.24 203.3,189.15 203.7,188.5 204.1,188.81 204.5,188.6 204.9,188.66 205.3,187.99 205.7,188.2 206.1,188.99 206.5,189.1 206.9,188.45 207.3,188.62 207.7,188.93 208.1,187.87 208.5,188.13 208.9,188.05 209.3,188.28 209.7,188.14 210.1,188.31 210.5,188.18 210.9,189 211.3,188.5 211.7,188.5 212.1,188.41 212.5,188.74 212.9,188.47 213.3,188.29 213.7,188.45 214.1,188.75 214.5,188.75 214.9,188.78 215.3,188.96 215.7,188.75 216.1,188.88 216.5,188.85 216.9,188.21 217.3,189.26 217.7,188.3 218.1,188.06 218.5,188.1 218.9,188.93 219.3,188.58 219.7,188.57 220.1,188.45 220.5,189.16 220.9,188.99 221.3,189.21 221.7,188.79 222.1,188.79 222.5,188.35 222.9,188.46 223.3,188.5 223.7,188.77 224.1,188.47 224.5,188.62 224.9,188.54 225.3,188.33 225.7,188.74 226.1,188.65 226.5,188.42 226.9,189.18 L227,190.6Z" fill="#ff8000" stroke="none"/>
<path d="M30.5,189.46 L30.9,189.31 L31.3,188.65 L31.7,188.41 L32.1,188.48 L32.5,189.48 L32.9,188.55 L33.3,189.12 L33.7,188.42 L34.1,188.34 L34.5,189.15 L34.9,188.78 L35.3,188.9 L35.7,188.69 L36.1,189.39 L36.5,188.56 L36.9,188.21 L37.3,188 L37.7,188.97 L38.1,187.84 L38.5,188.27 L38.9,188.41 L39.3,188.56 L39.7,189.07 L40.1,188.18 L40.5,188.59 L40.9,189.03 L41.3,188.77 L41.7,188.86 L42.1,188.51 L42.5,188.73 L42.9,188.74 L43.3,188.8 L43.7,188.88 L44.1,188.53 L44.5,188.86 L44.9,188.67 L45.3,188.45 L45.7,188.74 L46.1,188.43 L46.5,188.91 L46.9,188.26 L47.3,189.1 L47.7,188.53 L48.1,188.45 L48.5,188.07 L48.9,188.37 L49.3,189.24 L49.7,187.83 L50.1,188.81 L50.5,188.85 L50.9,188.02 L51.3,188.99 L51.7,188.85 L52.1,188.9 L52.5,188.44 L52.9,188.69 L53.3,188.85 L53.7,188.91 L54.1,188.64 L54.5,189.17 L54.9,188.89 L55.3,188.83 L55.7,188.71 L56.1,188.93 L56.5,189.15 L56.9,188.15 L57.3,189.02 L57.7,188.78 L58.1,188.55 L58.5,188.73 L58.9,188.44 L59.3,188.89 L59.7,188.66 L60.1,188.81 L60.5,189.49 L60.9,188.53 L61.3,188.91 L61.7,188.68 L62.1,188.91 L62.5,189.43 L62.9,188.99 L63.3,188.62 L63.7,188.43 L64.1,188.75 L64.5,188.87 L64.9,188.84 L65.3,189.15 L65.7,188.7 L66.1,188.57 L66.5,189.05 L66.9,188.74 L67.3,188.64 L67.7,188.27 L68.1,189.24 L68.5,188.26 L68.9,188.89 L69.3,188.46 L69.7,189.15 L70.1,188.97 L70.5,188.35 L70.9,188.79 L71.3,188.16 L71.7,188.92 L72.1,188.86 L72.5,189.29 L72.9,187.99 L73.3,189.03 L73.7,188.84 L74.1,188.99 L74.5,188.49 L74.9,188.37 L75.3,188.22 L75.7,188.72 L76.1,187.93 L76.5,188.04 L76.9,187.15 L77.3,185.55 L77.7,187.11 L78.1,188.15 L78.5,188.33 L78.9,188.75 L79.3,188.35 L79.7,188.54 L80.1,188 L80.5,188.69 L80.9,188.59 L81.3,188.5 L81.7,188.14 L82.1,188.36 L82.5,188.22 L82.9,188.06 L83.3,188.07 L83.7,187.73 L84.1,187.81 L84.5,187.69 L84.9,185.61 L85.3,184.34 L85.7,181.01 L86,179.65 L86.1,179.72 L86.5,182.6 L86.9,184.83 L87.3,186.55 L87.7,187.71 L88.1,187.44 L88.5,187.6 L88.9,188.25 L89.3,188.28 L89.7,188.34 L90.1,188.1 L90.5,188.57 L90.9,188.76 L91.3,188.73 L91.7,188.69 L92.1,189.12 L92.5,188.81 L92.9,189.06 L93.3,188.94 L93.7,189.24 L94.1,188.64 L94.5,188.5 L94.9,189.02 L95.3,189.26 L95.7,188.72 L96.1,188.53 L96.5,189.58 L96.9,188.54 L97.3,188.98 L97.7,189.43 L98.1,189.01 L98.5,188.9 L98.9,188.79 L99.3,188.79 L99.7,188.76 L100.1,188.9 L100.5,189.14 L100.9,189.16 L101.3,188.26 L101.7,188.68 L102.1,188.23 L102.5,188.03 L102.9,187.19 L103.3,187.56 L103.7,188 L104.1,188 L104.5,187.92 L104.9,187.45 L105.3,187.32 L105.7,186.81 L106.1,185.11 L106.5,182.88 L106.9,179.93 L107,179.53 L107.3,181.04 L107.7,184.32 L108.1,186.21 L108.5,186.72 L108.9,188.07 L109.3,187.3 L109.7,187.87 L110.1,188.13 L110.5,187.64 L110.9,188.09 L111.3,188.35 L111.7,188.4 L112.1,187.92 L112.5,188.58 L112.9,188.26 L113.3,188.37 L113.7,188.43 L114.1,188.39 L114.5,188.08 L114.9,188.18 L115.3,188.38 L115.7,186.96 L116.1,188.62 L116.5,188.64 L116.9,188.4 L117.3,189.1 L117.7,189.03 L118.1,189.19 L118.5,188.55 L118.9,188.9 L119.3,189.39 L119.7,188.42 L120.1,188.43 L120.5,188.6 L120.9,188.93 L121.3,188 L121.7,188.46 L122.1,188.89 L122.5,189.52 L122.9,189.38 L123.3,188.79 L123.7,188.38 L124.1,188.66 L124.5,189.14 L124.9,189.02 L125.3,188.46 L125.7,189.14 L126.1,188.62 L126.5,188.7 L126.9,189.1 L127.3,189.15 L127.7,188.79 L128.1,188.29 L128.5,187.56 L128.9,188.67 L129.3,189.14 L129.7,189.04 L130.1,188.45 L130.5,188.81 L130.9,189.29 L131.3,188.7 L131.7,189 L132.1,188.51 L132.5,188.93 L132.9,189.02 L133.3,188.75 L133.7,189.35 L134.1,188.53 L134.5,188.79 L134.9,189.44 L135.3,188.76 L135.7,189.09 L136.1,188.79 L136.5,189.39 L136.9,188.6 L137.3,188.56 L137.7,188.89 L138.1,189.41 L138.5,189.13 L138.9,189.23 L139.3,188.72 L139.7,188.52 L140.1,188.63 L140.5,188.14 L140.9,188.58 L141.3,188.78 L141.7,189.15 L142.1,188.16 L142.5,188.62 L142.9,188.78 L143.3,188.8 L143.7,188.66 L144.1,189.37 L144.5,189.11 L144.9,188.38 L145.3,188.4 L145.7,188.97 L146.1,188.9 L146.5,188.59 L146.9,188.59 L147.3,188.19 L147.7,188.8 L148.1,188.28 L148.5,188.66 L148.9,189.4 L149.3,188.59 L149.7,188.95 L150.1,188.34 L150.5,188.79 L150.9,189.01 L151.3,189.1 L151.7,188.91 L152.1,189.11 L152.5,188.87 L152.9,188.76 L153.3,189.27 L153.7,189.25 L154.1,189.18 L154.5,189.15 L154.9,189.11 L155.3,189.04 L155.7,188.95 L156.1,189.72 L156.5,189.23 L156.9,189.11 L157.3,188.87 L157.7,188.43 L158.1,189.59 L158.5,188.84 L158.9,188.78 L159.3,188.78 L159.7,189.18 L160.1,189.16 L160.5,189.4 L160.9,189.58 L161.3,189.78 L161.7,188.79 L162.1,188.92 L162.5,188.99 L162.9,188.69 L163.3,189.2 L163.7,188.66 L164.1,189.23 L164.5,189.34 L164.9,188.66 L165.3,188.95 L165.7,188.92 L166.1,188.51 L166.5,188.93 L166.9,188.72 L167.3,189.08 L167.7,188.73 L168.1,189.27 L168.5,188.67 L168.9,188.77 L169.3,188.08 L169.7,188.87 L170.1,188.34 L170.5,188.3 L170.9,188.65 L171.3,188.8 L171.7,188.31 L172.1,188.56 L172.5,188.48 L172.9,188.74 L173.3,188.16 L173.7,187.94 L174,187.61 L174.1,188.37 L174.5,187.88 L174.9,188.12 L175.3,187.76 L175.7,188.22 L176.1,188.55 L176.5,188.6 L176.9,188.18 L177.3,188.64 L177.7,188.84 L178.1,188.73 L178.5,188.41 L178.9,188.64 L179.3,187.81 L179.7,187.92 L180.1,189.12 L180.5,188.13 L180.9,188.84 L181.3,188.1 L181.7,188.58 L182.1,188.93 L182.5,188.21 L182.9,188.76 L183.3,189.13 L183.7,188.35 L184.1,187.45 L184.5,186.68 L184.9,185.59 L185.3,185.5 L185.7,185.11 L186.1,184.84 L186.5,184.93 L186.9,184.96 L187.1,185.09 L187.3,185.02 L187.7,185.41 L188.1,184.31 L188.5,184.68 L188.9,185.32 L189.3,185.68 L189.5,185.25 L189.7,186.29 L190.1,187.32 L190.5,187.88 L190.9,188.55 L191.3,188.44 L191.7,188.59 L192.1,188.85 L192.5,186.69 L192.9,188.48 L193.3,188.51 L193.7,189.18 L194.1,189.15 L194.5,188.98 L194.9,189 L195.3,188.81 L195.7,189.02 L196.1,189.25 L196.5,188.7 L196.9,188.03 L197.3,188.65 L197.7,188.57 L198.1,188.99 L198.5,188.6 L198.9,188.53 L199.3,188.98 L199.7,189.21 L200.1,188.94 L200.5,189.09 L200.9,188.96 L201.3,189.06 L201.7,189.03 L202.1,188.51 L202.5,188.76 L202.9,189.24 L203.3,189.15 L203.7,188.5 L204.1,188.81 L204.5,188.6 L204.9,188.66 L205.3,187.99 L205.7,188.2 L206.1,188.99 L206.5,189.1 L206.9,188.45 L207.3,188.62 L207.7,188.93 L208.1,187.87 L208.5,188.13 L208.9,188.05 L209.3,188.28 L209.7,188.14 L210.1,188.31 L210.5,188.18 L210.9,189 L211.3,188.5 L211.7,188.5 L212.1,188.41 L212.5,188.74 L212.9,188.47 L213.3,188.29 L213.7,188.45 L214.1,188.75 L214.5,188.75 L214.9,188.78 L215.3,188.96 L215.7,188.75 L216.1,188.88 L216.5,188.85 L216.9,188.21 L217.3,189.26 L217.7,188.3 L218.1,188.06 L218.5,188.1 L218.9,188.93 L219.3,188.58 L219.7,188.57 L220.1,188.45 L220.5,189.16 L220.9,188.99 L221.3,189.21 L221.7,188.79 L222.1,188.79 L222.5,188.35 L222.9,188.46 L223.3,188.5 L223.7,188.77 L224.1,188.47 L224.5,188.62 L224.9,188.54 L225.3,188.33 L225.7,188.74 L226.1,188.65 L226.5,188.42 L226.9,189.18" fill="none" stroke="#000" stroke-width="1.1" stroke-linejoin="round"/>
<path d="M286.5,154.1 286.5,145.2 286.7,140.75 286.8,142.66 286.9,142.41 287.1,145.76 287.3,150.55 287.5,146.79 287.7,153.8 287.9,151.58 288.1,148.78 288.3,150.4 288.5,151.94 288.7,151.9 288.9,153.27 289.1,150.69 289.3,150.67 289.5,147.83 289.7,153.8 289.9,150.69 290.1,153.8 290.3,150.56 290.5,149.24 290.7,153.8 290.9,150.41 291.1,149.31 291.3,153.09 291.5,149.45 291.7,152.01 291.9,149.04 292.1,150.34 292.3,147.42 292.5,148.83 292.7,148.44 292.9,143.17 293.1,142.71 293.3,142.69 293.5,144.94 293.7,143.21 293.9,144.59 294,144.5 294.1,143.54 294.3,144.32 294.5,141.33 294.7,141.75 294.9,144.16 295.1,144.43 295.3,146.61 295.5,146.79 295.7,147.9 295.9,144.91 296.1,146.88 296.3,142.47 296.5,143.82 296.7,140.83 296.9,137.25 297.1,134.19 297.3,130.61 297.5,127.25 297.7,126.08 297.8,125.04 297.9,122.96 298.1,116.46 298.3,101.53 298.5,91.29 298.7,98.83 298.9,114.54 299.1,116.43 299.2,117.63 299.3,117.97 299.5,118.91 299.7,119.15 299.9,120.51 300.1,124.97 300.3,126.18 300.5,125.67 300.7,124.63 300.9,122.46 301.1,123.8 301.3,125.26 301.5,126.36 301.7,131.24 301.9,135.84 302.1,136.81 302.3,140.07 302.5,143.2 302.7,144.02 302.9,141.24 303.1,139.2 303.3,137.83 303.5,137.56 303.6,137.77 303.7,137.49 303.9,138.54 304.1,137 304.3,134.37 304.5,132.49 304.7,129.74 304.9,126.22 305.1,113.59 305.3,102.97 305.4,100.91 305.5,100.6 305.7,115.19 305.9,124.95 306.1,126.05 306.3,127.35 306.5,131.4 306.7,134.27 306.9,137.94 307.1,139.53 307.3,142.56 307.5,144.35 307.7,147.03 307.9,145.14 308.1,143.31 308.3,142.15 308.4,144.53 308.5,142.5 308.7,144.05 308.9,143.64 309.1,142.22 309.3,144.06 309.5,143.8 309.7,146.41 309.9,143.61 310.1,141.32 310.3,137.91 310.5,137.07 310.7,132.16 310.9,129.46 311.1,126.79 311.3,123.66 311.5,121.03 311.7,117.71 311.9,115.96 312.1,113 312.3,97.67 312.5,76.4 312.7,62.58 312.9,75.21 313.1,95.79 313.3,112 313.5,114.45 313.7,117.7 313.9,119.6 314.1,123.7 314.3,127.47 314.5,129.25 314.7,128.55 314.8,127.33 314.9,128.33 315.1,129.21 315.3,130.74 315.5,129.84 315.7,130.49 315.9,132.93 316.1,134.17 316.3,135.95 316.5,136.61 316.7,138.9 316.9,140.76 317.1,141.24 317.3,143.47 317.5,144.16 317.7,144.28 317.9,142.37 318.1,145.54 318.3,145.26 318.5,145.61 318.7,147.5 318.9,151.39 319.1,145.14 319.3,151.3 319.5,149.76 319.7,148.51 319.9,147.19 320.1,147.45 320.3,151.45 320.5,146.72 320.7,150.1 320.9,148.72 321.1,149.49 321.3,151 321.5,148.82 321.7,144.94 321.9,148.46 322.1,152.21 322.3,148.25 322.5,149.13 322.7,150.08 322.9,146.64 323.1,148.43 323.3,148.32 323.5,148.75 323.7,146.33 323.9,150.62 324.1,150.98 324.3,150.09 324.5,150.09 324.7,151.4 324.9,152.51 325.1,149.92 325.3,149.77 325.5,150.47 325.7,152.17 325.9,151.18 326.1,150.64 326.3,152.62 326.5,151.15 326.7,151.01 326.9,153.8 327.1,152.23 327.3,148.06 327.5,152.84 327.7,153.26 327.9,145.51 328.1,149.02 328.3,148.81 328.5,151.3 328.7,149.04 328.9,151.05 329.1,150.26 329.3,149.7 329.5,146.74 329.7,147.96 329.9,151.33 330.1,148.17 330.3,149.55 330.5,148.89 330.7,146.44 330.9,148.33 331.1,148.42 331.3,148.68 331.5,146.72 331.7,144.74 331.9,145.89 332.1,141.01 332.3,143.72 332.5,143.23 332.7,142.85 332.9,143.23 333.1,141.86 333.3,141.25 333.5,142.54 333.7,138.61 333.9,132.59 334.1,125.21 334.3,117.13 334.5,112.17 334.7,115.54 334.9,126.63 335.1,133.81 335.3,139.39 335.5,141.85 335.7,139.99 335.9,140.96 336.1,148.54 336.3,142.29 336.5,147.46 336.7,152.09 336.9,146.46 337.1,149.23 337.3,147.76 337.5,148.92 337.7,147.36 337.9,145.86 338.1,143.89 338.3,140.73 338.5,141.17 338.7,146.28 338.9,149.53 339.1,147.69 339.3,144.92 339.5,148.49 339.7,141.66 339.9,146.98 340.1,148.19 340.3,148.09 340.5,144.68 340.7,143.43 340.9,142.74 341.1,144.44 341.3,143.72 341.5,140.66 341.7,140.49 341.9,142.62 342.1,139.48 342.3,139.31 342.5,138.32 342.7,135.14 342.9,127.48 343.1,116.27 343.3,102.81 343.5,84.72 343.7,73.09 343.9,82.78 344.1,102.14 344.3,117.33 344.5,129.04 344.7,134.46 344.9,136.78 345.1,140.65 345.3,138.83 345.5,137.89 345.7,136.81 345.9,136.8 346.1,136.75 346.3,137.99 346.5,139.69 346.7,141.15 346.9,143.8 347.1,147.42 347.3,145.66 347.5,150.86 347.7,149.81 347.9,153.8 348.1,148.33 348.3,150.87 348.5,150.08 348.7,150.14 348.9,153.8 349.1,149.5 349.3,146.28 349.5,151.53 349.7,149.67 349.9,146.82 350.1,149.51 350.3,152.26 350.5,152.32 350.7,148.51 350.9,150.74 351.1,148.91 351.3,149.42 351.5,144.1 351.7,145.42 351.9,146.01 352.1,146.5 352.3,142.54 352.5,149.48 352.7,148.62 352.9,143.67 353.1,145.92 353.3,144.9 353.5,150.94 353.7,144.17 353.9,143.66 354.1,151.46 354.3,149.63 354.5,143.33 354.7,149.39 354.9,146.84 355.1,145.89 355.3,146.92 355.5,146.3 355.7,150.04 355.9,151.06 356.1,144.99 356.3,150.12 356.5,147.13 356.7,146.14 356.9,147.77 357.1,145.98 357.3,151.99 357.5,148.03 357.7,145.81 357.9,147.56 358.1,147.82 358.3,147.06 358.5,149.18 358.7,149.3 358.9,143.77 359.1,146.85 359.3,145.48 359.5,142.58 359.7,144.14 359.9,140.77 360.1,138.04 360.3,135.94 360.5,133.89 360.6,134.77 360.7,134.62 360.9,135.47 361.1,138.86 361.3,140.13 361.5,138.78 361.7,139.75 361.9,139.13 362.1,137.3 362.3,137.92 362.5,137.7 362.7,137.04 362.9,137.97 363.1,138 363.3,138.1 363.5,138.69 363.7,140.02 363.9,138.18 364.1,136.32 364.3,134.43 364.5,127.5 364.7,118.49 364.9,106.13 365.1,86.67 365.3,77.18 365.5,87.93 365.7,105.22 365.9,120.32 366.1,129.57 366.3,133.63 366.5,136.44 366.7,138.04 366.9,139.78 367.1,139.77 367.3,143.98 367.5,141.65 367.7,146.91 367.9,143.44 368.1,139.54 368.3,141.64 368.5,143.31 368.7,146.49 368.9,139.25 369.1,136.58 369.3,132.72 369.4,132.01 369.5,133.47 369.7,136.35 369.9,139.54 370.1,139.81 370.3,138.64 370.5,138.05 370.7,138.99 370.9,137.6 371.1,138.72 371.3,137.74 371.5,138.07 371.7,138.23 371.9,137.58 372,138.41 372.1,136.93 372.3,136.32 372.5,137.94 372.7,137.45 372.9,137.69 373.1,138.98 373.3,138.17 373.5,137.48 373.7,138.24 373.9,139.88 374.1,139 374.3,140.96 374.5,140.79 374.7,141.58 374.9,139.63 375.1,140.74 375.3,140.93 375.5,140.35 375.7,139.93 375.9,139.93 376,139.65 376.1,138.92 376.3,142.46 376.5,138.68 376.7,139.87 376.9,140.85 377.1,142.29 377.3,141.31 377.5,141.08 377.7,141.5 377.9,147.72 378.1,144.54 378.3,142.86 378.5,140.16 378.7,141.81 378.9,144.01 379.1,145.28 379.3,141.5 379.5,143.25 379.7,143.54 379.9,144.17 380.1,143.44 380.3,144.79 380.5,145.11 380.7,145.42 380.9,146.96 381.1,147.75 381.3,145.37 381.5,145.74 381.7,145.9 381.9,147.6 382.1,146.43 382.3,144.65 382.5,145.55 382.7,144.43 382.9,148.69 383.1,144.93 383.3,146.38 383.5,141.07 383.7,147.64 383.9,146.07 384.1,143.82 384.3,137.94 384.5,144.99 384.7,145.87 384.9,146.4 385.1,147.67 385.3,146.8 385.5,145.15 385.7,146.5 385.9,147.07 386.1,147.19 386.3,151.47 386.5,145.93 386.7,151.4 386.9,146.67 387.1,149.25 387.3,151.53 387.5,146.59 387.7,148.34 387.9,152.53 388.1,149.36 388.3,147.63 388.5,147.9 388.7,148.66 388.9,147.08 389.1,149.08 389.3,143.5 389.5,144.05 389.7,145.22 389.9,144.38 390.1,148.57 390.3,149.68 390.5,150.36 390.7,149.78 390.9,149.31 391.1,146.99 391.3,147.87 391.5,147.26 391.7,146.05 391.9,145.97 392.1,146.67 392.3,147.84 392.5,146.68 392.7,142.94 392.9,146.97 393.1,147.02 393.3,148.89 393.5,142.89 393.7,144.88 393.9,145.35 394.1,147.27 394.3,142.18 394.5,144.07 394.7,145.8 394.9,145.21 395.1,147.64 395.3,147.26 395.5,142.94 395.7,143.4 395.9,144.25 396.1,142.11 396.3,146.15 396.5,148.08 396.7,145.33 396.9,147.79 397.1,147.26 397.3,148.05 397.5,145.51 397.7,146.14 397.9,145.52 398.1,145.62 398.3,143.97 398.5,144.09 398.7,143.96 398.9,145.19 399.1,149.58 399.3,146.88 399.5,150 399.7,147.81 399.9,147.24 400.1,145.94 400.3,146.54 400.5,148.63 400.7,141.09 400.9,145.09 401.1,145.57 401.3,142.27 401.5,143.48 401.7,145.17 401.9,142.66 402.1,147.45 402.3,141.05 402.5,143.45 402.7,142.94 402.9,144.09 403.1,140.32 403.3,141.53 403.5,147.69 403.7,149.13 403.9,146.84 404.1,145.61 404.3,144.55 404.5,144.24 404.7,142.69 404.9,145.02 405.1,146.02 405.3,144.76 405.5,146.46 405.7,143.98 405.9,143.31 406.1,147.71 406.3,143.64 406.5,148.89 406.7,143.47 406.9,147.09 407.1,148.41 407.3,144.65 407.5,147.32 407.7,144.98 407.9,147.62 408.1,147.04 408.3,143.43 408.5,142.49 408.7,150.53 408.9,145.97 409.1,141.7 409.3,143.98 409.5,143.04 409.7,140.8 409.9,147.25 410.1,145.82 410.3,145.18 410.5,140.74 410.7,146.37 410.9,145.27 411.1,142.99 411.3,145.21 411.5,141.67 411.7,144.06 411.9,141 412.1,137.33 412.3,132.25 412.4,131.44 412.5,132.39 412.7,136.46 412.9,138.33 413.1,142.02 413.3,141.18 413.5,139.51 413.7,144.3 413.9,143.91 414.1,146.65 414.3,142.92 414.5,141.05 414.7,144.53 414.9,145.01 415.1,146.81 415.3,144.08 415.5,146.82 415.7,146.26 415.9,144.55 416.1,141.98 416.3,145.43 416.5,142.07 416.7,141.87 416.9,142.46 417.1,142.65 417.3,142.74 417.5,145.26 417.7,138.91 417.9,142.31 418.1,139.53 418.3,139.28 418.5,142.13 418.7,137.21 418.9,143.33 419.1,139.51 419.3,135.8 419.5,141.38 419.7,138.01 419.9,146.16 420.1,141.7 420.3,143.03 420.5,143.26 420.7,140.94 420.9,142.22 421.1,142.89 421.3,142.45 421.5,141.04 421.7,140.61 421.9,144.07 422.1,143.1 422.3,143.22 422.5,142.39 422.7,146.53 422.9,141.46 423.1,140.68 423.3,142.11 423.5,142.65 423.7,142.93 423.9,141.3 424.1,146.1 424.3,145.66 424.5,140.8 424.7,142.54 424.9,142.64 425.1,139.27 425.3,143.46 425.5,142.45 425.7,142.1 425.9,141.73 426.1,144.67 426.3,140.64 426.5,141.91 426.7,138.91 426.9,139.58 427.1,142.3 427.3,140.82 427.5,135.68 427.7,142.34 427.9,133 428.1,133.58 428.2,132.96 428.3,133.79 428.5,137.6 428.7,138.27 428.9,141.16 429.1,140.89 429.3,137.56 429.5,142.69 429.7,146.4 429.9,140.75 430.1,140.2 430.3,143.43 430.5,143.06 430.7,143.75 430.9,140.54 431.1,140.43 431.3,138.86 431.5,142.99 431.7,143.08 431.9,143.15 432.1,138.35 432.3,143.05 432.5,136.08 432.7,137.72 432.9,134.98 433.1,130.44 433.3,129.51 433.5,131.43 433.7,135.3 433.9,134.49 434.1,140.96 434.3,140.17 434.5,143.03 434.7,141.02 434.9,134.8 435.1,141.21 435.3,141.29 435.5,141.31 435.7,141.54 435.9,140.95 436.1,141.48 436.3,143.86 436.5,143.2 436.7,138.49 436.9,134.3 437.1,131.05 437.3,133.7 437.5,136.07 437.7,138.71 437.9,143.14 438.1,144.94 438.3,143.88 438.5,147.15 438.7,149.94 438.9,152.99 439.1,147.77 439.3,151.77 439.5,144.66 439.7,147.33 439.9,150.27 440.1,146.99 440.3,152.43 440.5,147.21 440.7,151.25 440.9,149.53 441.1,148.06 441.3,153.3 441.5,146.22 441.7,147.24 441.9,149.87 442.1,148.36 442.3,145.5 442.5,145.89 442.7,150.1 442.9,144.26 443.1,143.43 443.3,146.22 443.5,143.13 443.7,144.52 443.9,142.82 444.1,139.86 444.3,136.98 444.5,133.35 444.7,126.91 444.9,122.68 445,123.07 445.1,121.3 445.3,128.9 445.5,132.69 445.7,131.99 445.9,129.41 446.1,129.22 446.3,125.43 446.5,126.17 446.7,124.51 446.9,126.36 447,120.96 447.1,119.33 447.2,118.48 447.3,118.89 447.5,123.07 447.7,127.03 447.9,128.87 448.1,129.3 448.3,129.8 448.5,130.12 448.7,132.56 448.9,135.28 449.1,133.33 449.3,127.06 449.5,124.92 449.7,128.47 449.9,131.98 450.1,133.78 450.3,131.95 450.5,132.88 450.7,131.45 450.9,132.9 451.1,130.24 451.3,132.34 451.5,133.54 451.7,133.12 451.9,132.53 452.1,132.56 452.3,132.57 452.5,132.55 452.7,133.28 452.9,133.29 453.1,133.42 453.3,133.55 453.5,136.02 453.7,136.55 453.9,137.69 454.1,137.19 454.3,139.64 454.5,138.37 454.7,138.14 454.9,140.72 455.1,139.59 455.3,139.02 455.5,139.06 455.7,139.91 455.9,140.32 456.1,138.97 456.3,140.47 456.5,139.44 456.7,139.21 456.9,136.78 457,139.46 457.1,139 457.3,138.63 457.5,139.34 457.7,138.64 457.9,138.49 458.1,137.43 458.3,139.75 458.5,137.72 458.7,138.88 458.9,139.28 459.1,140.44 459.3,140.21 459.5,141.07 459.7,142.98 459.9,144.92 460.1,139.29 460.3,141.19 460.5,143.55 460.7,147.27 460.9,143.79 461.1,139.67 461.3,140.93 461.5,143.87 461.7,145.14 461.9,145.84 462.1,147.09 462.3,143.2 462.5,146.04 462.7,144.3 462.9,146.08 463.1,144.13 463.3,147.57 463.5,143.56 463.7,145.72 463.9,143.52 464.1,148.28 464.3,144.57 464.5,147.95 464.7,146.87 464.9,147.31 465.1,147.44 465.3,145.49 465.5,147.18 465.7,147.31 465.9,146.81 466.1,151.29 466.3,145.13 466.5,145.47 466.7,148.45 466.9,143.44 467.1,149.74 467.3,146.17 467.5,145.68 467.7,145.91 467.9,148.94 468.1,145.88 468.3,147.1 468.5,145.72 468.7,144.65 468.9,146.52 469.1,145.22 469.3,147.37 469.5,150.17 469.7,148.06 469.9,150.28 470.1,147.55 470.3,145.82 470.5,146 470.7,142.8 470.9,143.96 471.1,145.91 471.3,148.1 471.5,143.17 471.7,146 471.9,143.62 472.1,147 472.3,145.21 472.5,147.37 472.7,147.34 472.9,145.28 473.1,145.46 473.3,142.32 473.5,144.4 473.7,142.25 473.9,144.3 474.1,144.71 474.3,140.86 474.5,140.1 474.7,142.86 474.9,139.93 475.1,144.72 475.3,142.68 475.5,142.32 475.7,137.56 475.9,143.02 476.1,142.95 476.3,141.25 476.5,145.08 476.7,136.29 476.9,139.84 477.1,139.43 477.3,141.76 477.5,135.09 477.6,136.01 477.7,136.51 477.9,139.34 478.1,139.89 478.3,140.21 478.5,140.95 478.7,144.73 478.9,140.96 479.1,148.02 479.3,142.34 479.5,141.37 479.7,140 479.9,143.47 480.1,144.51 480.3,142.1 480.5,145.25 480.7,145.74 480.9,146.49 481.1,144.18 481.3,148.4 481.5,144.21 481.7,142.81 481.9,146.7 482.1,145.21 482.3,143.62 482.5,142.7 482.7,145.59 482.9,147.32 483.1,144.58 483.3,145.33 483.5,142.04 483.7,143.07 483.9,145.31 484.1,144.37 484.3,142.11 484.5,144.47 484.7,142.3 484.9,142.79 485.1,143.69 485.3,143.42 485.5,142.89 485.7,143.44 485.9,144.29 486.1,144.73 486.3,145.17 486.5,140.23 486.7,144.81 486.9,146.15 487.1,146.56 487.3,145.06 487.5,145.17 487.7,146.53 487.9,144.1 488.1,142.07 488.3,146.63 488.5,147.31 488.7,144.48 488.9,146.04 489.1,144.42 489.3,142.02 489.5,144.92 L489.6,154.1Z" fill="#8000ff" stroke="none"/>
<path d="M286.5,145.2 L286.7,140.75 L286.8,142.66 L286.9,142.41 L287.1,145.76 L287.3,150.55 L287.5,146.79 L287.7,153.8 L287.9,151.58 L288.1,148.78 L288.3,150.4 L288.5,151.94 L288.7,151.9 L288.9,153.27 L289.1,150.69 L289.3,150.67 L289.5,147.83 L289.7,153.8 L289.9,150.69 L290.1,153.8 L290.3,150.56 L290.5,149.24 L290.7,153.8 L290.9,150.41 L291.1,149.31 L291.3,153.09 L291.5,149.45 L291.7,152.01 L291.9,149.04 L292.1,150.34 L292.3,147.42 L292.5,148.83 L292.7,148.44 L292.9,143.17 L293.1,142.71 L293.3,142.69 L293.5,144.94 L293.7,143.21 L293.9,144.59 L294,144.5 L294.1,143.54 L294.3,144.32 L294.5,141.33 L294.7,141.75 L294.9,144.16 L295.1,144.43 L295.3,146.61 L295.5,146.79 L295.7,147.9 L295.9,144.91 L296.1,146.88 L296.3,142.47 L296.5,143.82 L296.7,140.83 L296.9,137.25 L297.1,134.19 L297.3,130.61 L297.5,127.25 L297.7,126.08 L297.8,125.04 L297.9,122.96 L298.1,116.46 L298.3,101.53 L298.5,91.29 L298.7,98.83 L298.9,114.54 L299.1,116.43 L299.2,117.63 L299.3,117.97 L299.5,118.91 L299.7,119.15 L299.9,120.51 L300.1,124.97 L300.3,126.18 L300.5,125.67 L300.7,124.63 L300.9,122.46 L301.1,123.8 L301.3,125.26 L301.5,126.36 L301.7,131.24 L301.9,135.84 L302.1,136.81 L302.3,140.07 L302.5,143.2 L302.7,144.02 L302.9,141.24 L303.1,139.2 L303.3,137.83 L303.5,137.56 L303.6,137.77 L303.7,137.49 L303.9,138.54 L304.1,137 L304.3,134.37 L304.5,132.49 L304.7,129.74 L304.9,126.22 L305.1,113.59 L305.3,102.97 L305.4,100.91 L305.5,100.6 L305.7,115.19 L305.9,124.95 L306.1,126.05 L306.3,127.35 L306.5,131.4 L306.7,134.27 L306.9,137.94 L307.1,139.53 L307.3,142.56 L307.5,144.35 L307.7,147.03 L307.9,145.14 L308.1,143.31 L308.3,142.15 L308.4,144.53 L308.5,142.5 L308.7,144.05 L308.9,143.64 L309.1,142.22 L309.3,144.06 L309.5,143.8 L309.7,146.41 L309.9,143.61 L310.1,141.32 L310.3,137.91 L310.5,137.07 L310.7,132.16 L310.9,129.46 L311.1,126.79 L311.3,123.66 L311.5,121.03 L311.7,117.71 L311.9,115.96 L312.1,113 L312.3,97.67 L312.5,76.4 L312.7,62.58 L312.9,75.21 L313.1,95.79 L313.3,112 L313.5,114.45 L313.7,117.7 L313.9,119.6 L314.1,123.7 L314.3,127.47 L314.5,129.25 L314.7,128.55 L314.8,127.33 L314.9,128.33 L315.1,129.21 L315.3,130.74 L315.5,129.84 L315.7,130.49 L315.9,132.93 L316.1,134.17 L316.3,135.95 L316.5,136.61 L316.7,138.9 L316.9,140.76 L317.1,141.24 L317.3,143.47 L317.5,144.16 L317.7,144.28 L317.9,142.37 L318.1,145.54 L318.3,145.26 L318.5,145.61 L318.7,147.5 L318.9,151.39 L319.1,145.14 L319.3,151.3 L319.5,149.76 L319.7,148.51 L319.9,147.19 L320.1,147.45 L320.3,151.45 L320.5,146.72 L320.7,150.1 L320.9,148.72 L321.1,149.49 L321.3,151 L321.5,148.82 L321.7,144.94 L321.9,148.46 L322.1,152.21 L322.3,148.25 L322.5,149.13 L322.7,150.08 L322.9,146.64 L323.1,148.43 L323.3,148.32 L323.5,148.75 L323.7,146.33 L323.9,150.62 L324.1,150.98 L324.3,150.09 L324.5,150.09 L324.7,151.4 L324.9,152.51 L325.1,149.92 L325.3,149.77 L325.5,150.47 L325.7,152.17 L325.9,151.18 L326.1,150.64 L326.3,152.62 L326.5,151.15 L326.7,151.01 L326.9,153.8 L327.1,152.23 L327.3,148.06 L327.5,152.84 L327.7,153.26 L327.9,145.51 L328.1,149.02 L328.3,148.81 L328.5,151.3 L328.7,149.04 L328.9,151.05 L329.1,150.26 L329.3,149.7 L329.5,146.74 L329.7,147.96 L329.9,151.33 L330.1,148.17 L330.3,149.55 L330.5,148.89 L330.7,146.44 L330.9,148.33 L331.1,148.42 L331.3,148.68 L331.5,146.72 L331.7,144.74 L331.9,145.89 L332.1,141.01 L332.3,143.72 L332.5,143.23 L332.7,142.85 L332.9,143.23 L333.1,141.86 L333.3,141.25 L333.5,142.54 L333.7,138.61 L333.9,132.59 L334.1,125.21 L334.3,117.13 L334.5,112.17 L334.7,115.54 L334.9,126.63 L335.1,133.81 L335.3,139.39 L335.5,141.85 L335.7,139.99 L335.9,140.96 L336.1,148.54 L336.3,142.29 L336.5,147.46 L336.7,152.09 L336.9,146.46 L337.1,149.23 L337.3,147.76 L337.5,148.92 L337.7,147.36 L337.9,145.86 L338.1,143.89 L338.3,140.73 L338.5,141.17 L338.7,146.28 L338.9,149.53 L339.1,147.69 L339.3,144.92 L339.5,148.49 L339.7,141.66 L339.9,146.98 L340.1,148.19 L340.3,148.09 L340.5,144.68 L340.7,143.43 L340.9,142.74 L341.1,144.44 L341.3,143.72 L341.5,140.66 L341.7,140.49 L341.9,142.62 L342.1,139.48 L342.3,139.31 L342.5,138.32 L342.7,135.14 L342.9,127.48 L343.1,116.27 L343.3,102.81 L343.5,84.72 L343.7,73.09 L343.9,82.78 L344.1,102.14 L344.3,117.33 L344.5,129.04 L344.7,134.46 L344.9,136.78 L345.1,140.65 L345.3,138.83 L345.5,137.89 L345.7,136.81 L345.9,136.8 L346.1,136.75 L346.3,137.99 L346.5,139.69 L346.7,141.15 L346.9,143.8 L347.1,147.42 L347.3,145.66 L347.5,150.86 L347.7,149.81 L347.9,153.8 L348.1,148.33 L348.3,150.87 L348.5,150.08 L348.7,150.14 L348.9,153.8 L349.1,149.5 L349.3,146.28 L349.5,151.53 L349.7,149.67 L349.9,146.82 L350.1,149.51 L350.3,152.26 L350.5,152.32 L350.7,148.51 L350.9,150.74 L351.1,148.91 L351.3,149.42 L351.5,144.1 L351.7,145.42 L351.9,146.01 L352.1,146.5 L352.3,142.54 L352.5,149.48 L352.7,148.62 L352.9,143.67 L353.1,145.92 L353.3,144.9 L353.5,150.94 L353.7,144.17 L353.9,143.66 L354.1,151.46 L354.3,149.63 L354.5,143.33 L354.7,149.39 L354.9,146.84 L355.1,145.89 L355.3,146.92 L355.5,146.3 L355.7,150.04 L355.9,151.06 L356.1,144.99 L356.3,150.12 L356.5,147.13 L356.7,146.14 L356.9,147.77 L357.1,145.98 L357.3,151.99 L357.5,148.03 L357.7,145.81 L357.9,147.56 L358.1,147.82 L358.3,147.06 L358.5,149.18 L358.7,149.3 L358.9,143.77 L359.1,146.85 L359.3,145.48 L359.5,142.58 L359.7,144.14 L359.9,140.77 L360.1,138.04 L360.3,135.94 L360.5,133.89 L360.6,134.77 L360.7,134.62 L360.9,135.47 L361.1,138.86 L361.3,140.13 L361.5,138.78 L361.7,139.75 L361.9,139.13 L362.1,137.3 L362.3,137.92 L362.5,137.7 L362.7,137.04 L362.9,137.97 L363.1,138 L363.3,138.1 L363.5,138.69 L363.7,140.02 L363.9,138.18 L364.1,136.32 L364.3,134.43 L364.5,127.5 L364.7,118.49 L364.9,106.13 L365.1,86.67 L365.3,77.18 L365.5,87.93 L365.7,105.22 L365.9,120.32 L366.1,129.57 L366.3,133.63 L366.5,136.44 L366.7,138.04 L366.9,139.78 L367.1,139.77 L367.3,143.98 L367.5,141.65 L367.7,146.91 L367.9,143.44 L368.1,139.54 L368.3,141.64 L368.5,143.31 L368.7,146.49 L368.9,139.25 L369.1,136.58 L369.3,132.72 L369.4,132.01 L369.5,133.47 L369.7,136.35 L369.9,139.54 L370.1,139.81 L370.3,138.64 L370.5,138.05 L370.7,138.99 L370.9,137.6 L371.1,138.72 L371.3,137.74 L371.5,138.07 L371.7,138.23 L371.9,137.58 L372,138.41 L372.1,136.93 L372.3,136.32 L372.5,137.94 L372.7,137.45 L372.9,137.69 L373.1,138.98 L373.3,138.17 L373.5,137.48 L373.7,138.24 L373.9,139.88 L374.1,139 L374.3,140.96 L374.5,140.79 L374.7,141.58 L374.9,139.63 L375.1,140.74 L375.3,140.93 L375.5,140.35 L375.7,139.93 L375.9,139.93 L376,139.65 L376.1,138.92 L376.3,142.46 L376.5,138.68 L376.7,139.87 L376.9,140.85 L377.1,142.29 L377.3,141.31 L377.5,141.08 L377.7,141.5 L377.9,147.72 L378.1,144.54 L378.3,142.86 L378.5,140.16 L378.7,141.81 L378.9,144.01 L379.1,145.28 L379.3,141.5 L379.5,143.25 L379.7,143.54 L379.9,144.17 L380.1,143.44 L380.3,144.79 L380.5,145.11 L380.7,145.42 L380.9,146.96 L381.1,147.75 L381.3,145.37 L381.5,145.74 L381.7,145.9 L381.9,147.6 L382.1,146.43 L382.3,144.65 L382.5,145.55 L382.7,144.43 L382.9,148.69 L383.1,144.93 L383.3,146.38 L383.5,141.07 L383.7,147.64 L383.9,146.07 L384.1,143.82 L384.3,137.94 L384.5,144.99 L384.7,145.87 L384.9,146.4 L385.1,147.67 L385.3,146.8 L385.5,145.15 L385.7,146.5 L385.9,147.07 L386.1,147.19 L386.3,151.47 L386.5,145.93 L386.7,151.4 L386.9,146.67 L387.1,149.25 L387.3,151.53 L387.5,146.59 L387.7,148.34 L387.9,152.53 L388.1,149.36 L388.3,147.63 L388.5,147.9 L388.7,148.66 L388.9,147.08 L389.1,149.08 L389.3,143.5 L389.5,144.05 L389.7,145.22 L389.9,144.38 L390.1,148.57 L390.3,149.68 L390.5,150.36 L390.7,149.78 L390.9,149.31 L391.1,146.99 L391.3,147.87 L391.5,147.26 L391.7,146.05 L391.9,145.97 L392.1,146.67 L392.3,147.84 L392.5,146.68 L392.7,142.94 L392.9,146.97 L393.1,147.02 L393.3,148.89 L393.5,142.89 L393.7,144.88 L393.9,145.35 L394.1,147.27 L394.3,142.18 L394.5,144.07 L394.7,145.8 L394.9,145.21 L395.1,147.64 L395.3,147.26 L395.5,142.94 L395.7,143.4 L395.9,144.25 L396.1,142.11 L396.3,146.15 L396.5,148.08 L396.7,145.33 L396.9,147.79 L397.1,147.26 L397.3,148.05 L397.5,145.51 L397.7,146.14 L397.9,145.52 L398.1,145.62 L398.3,143.97 L398.5,144.09 L398.7,143.96 L398.9,145.19 L399.1,149.58 L399.3,146.88 L399.5,150 L399.7,147.81 L399.9,147.24 L400.1,145.94 L400.3,146.54 L400.5,148.63 L400.7,141.09 L400.9,145.09 L401.1,145.57 L401.3,142.27 L401.5,143.48 L401.7,145.17 L401.9,142.66 L402.1,147.45 L402.3,141.05 L402.5,143.45 L402.7,142.94 L402.9,144.09 L403.1,140.32 L403.3,141.53 L403.5,147.69 L403.7,149.13 L403.9,146.84 L404.1,145.61 L404.3,144.55 L404.5,144.24 L404.7,142.69 L404.9,145.02 L405.1,146.02 L405.3,144.76 L405.5,146.46 L405.7,143.98 L405.9,143.31 L406.1,147.71 L406.3,143.64 L406.5,148.89 L406.7,143.47 L406.9,147.09 L407.1,148.41 L407.3,144.65 L407.5,147.32 L407.7,144.98 L407.9,147.62 L408.1,147.04 L408.3,143.43 L408.5,142.49 L408.7,150.53 L408.9,145.97 L409.1,141.7 L409.3,143.98 L409.5,143.04 L409.7,140.8 L409.9,147.25 L410.1,145.82 L410.3,145.18 L410.5,140.74 L410.7,146.37 L410.9,145.27 L411.1,142.99 L411.3,145.21 L411.5,141.67 L411.7,144.06 L411.9,141 L412.1,137.33 L412.3,132.25 L412.4,131.44 L412.5,132.39 L412.7,136.46 L412.9,138.33 L413.1,142.02 L413.3,141.18 L413.5,139.51 L413.7,144.3 L413.9,143.91 L414.1,146.65 L414.3,142.92 L414.5,141.05 L414.7,144.53 L414.9,145.01 L415.1,146.81 L415.3,144.08 L415.5,146.82 L415.7,146.26 L415.9,144.55 L416.1,141.98 L416.3,145.43 L416.5,142.07 L416.7,141.87 L416.9,142.46 L417.1,142.65 L417.3,142.74 L417.5,145.26 L417.7,138.91 L417.9,142.31 L418.1,139.53 L418.3,139.28 L418.5,142.13 L418.7,137.21 L418.9,143.33 L419.1,139.51 L419.3,135.8 L419.5,141.38 L419.7,138.01 L419.9,146.16 L420.1,141.7 L420.3,143.03 L420.5,143.26 L420.7,140.94 L420.9,142.22 L421.1,142.89 L421.3,142.45 L421.5,141.04 L421.7,140.61 L421.9,144.07 L422.1,143.1 L422.3,143.22 L422.5,142.39 L422.7,146.53 L422.9,141.46 L423.1,140.68 L423.3,142.11 L423.5,142.65 L423.7,142.93 L423.9,141.3 L424.1,146.1 L424.3,145.66 L424.5,140.8 L424.7,142.54 L424.9,142.64 L425.1,139.27 L425.3,143.46 L425.5,142.45 L425.7,142.1 L425.9,141.73 L426.1,144.67 L426.3,140.64 L426.5,141.91 L426.7,138.91 L426.9,139.58 L427.1,142.3 L427.3,140.82 L427.5,135.68 L427.7,142.34 L427.9,133 L428.1,133.58 L428.2,132.96 L428.3,133.79 L428.5,137.6 L428.7,138.27 L428.9,141.16 L429.1,140.89 L429.3,137.56 L429.5,142.69 L429.7,146.4 L429.9,140.75 L430.1,140.2 L430.3,143.43 L430.5,143.06 L430.7,143.75 L430.9,140.54 L431.1,140.43 L431.3,138.86 L431.5,142.99 L431.7,143.08 L431.9,143.15 L432.1,138.35 L432.3,143.05 L432.5,136.08 L432.7,137.72 L432.9,134.98 L433.1,130.44 L433.3,129.51 L433.5,131.43 L433.7,135.3 L433.9,134.49 L434.1,140.96 L434.3,140.17 L434.5,143.03 L434.7,141.02 L434.9,134.8 L435.1,141.21 L435.3,141.29 L435.5,141.31 L435.7,141.54 L435.9,140.95 L436.1,141.48 L436.3,143.86 L436.5,143.2 L436.7,138.49 L436.9,134.3 L437.1,131.05 L437.3,133.7 L437.5,136.07 L437.7,138.71 L437.9,143.14 L438.1,144.94 L438.3,143.88 L438.5,147.15 L438.7,149.94 L438.9,152.99 L439.1,147.77 L439.3,151.77 L439.5,144.66 L439.7,147.33 L439.9,150.27 L440.1,146.99 L440.3,152.43 L440.5,147.21 L440.7,151.25 L440.9,149.53 L441.1,148.06 L441.3,153.3 L441.5,146.22 L441.7,147.24 L441.9,149.87 L442.1,148.36 L442.3,145.5 L442.5,145.89 L442.7,150.1 L442.9,144.26 L443.1,143.43 L443.3,146.22 L443.5,143.13 L443.7,144.52 L443.9,142.82 L444.1,139.86 L444.3,136.98 L444.5,133.35 L444.7,126.91 L444.9,122.68 L445,123.07 L445.1,121.3 L445.3,128.9 L445.5,132.69 L445.7,131.99 L445.9,129.41 L446.1,129.22 L446.3,125.43 L446.5,126.17 L446.7,124.51 L446.9,126.36 L447,120.96 L447.1,119.33 L447.2,118.48 L447.3,118.89 L447.5,123.07 L447.7,127.03 L447.9,128.87 L448.1,129.3 L448.3,129.8 L448.5,130.12 L448.7,132.56 L448.9,135.28 L449.1,133.33 L449.3,127.06 L449.5,124.92 L449.7,128.47 L449.9,131.98 L450.1,133.78 L450.3,131.95 L450.5,132.88 L450.7,131.45 L450.9,132.9 L451.1,130.24 L451.3,132.34 L451.5,133.54 L451.7,133.12 L451.9,132.53 L452.1,132.56 L452.3,132.57 L452.5,132.55 L452.7,133.28 L452.9,133.29 L453.1,133.42 L453.3,133.55 L453.5,136.02 L453.7,136.55 L453.9,137.69 L454.1,137.19 L454.3,139.64 L454.5,138.37 L454.7,138.14 L454.9,140.72 L455.1,139.59 L455.3,139.02 L455.5,139.06 L455.7,139.91 L455.9,140.32 L456.1,138.97 L456.3,140.47 L456.5,139.44 L456.7,139.21 L456.9,136.78 L457,139.46 L457.1,139 L457.3,138.63 L457.5,139.34 L457.7,138.64 L457.9,138.49 L458.1,137.43 L458.3,139.75 L458.5,137.72 L458.7,138.88 L458.9,139.28 L459.1,140.44 L459.3,140.21 L459.5,141.07 L459.7,142.98 L459.9,144.92 L460.1,139.29 L460.3,141.19 L460.5,143.55 L460.7,147.27 L460.9,143.79 L461.1,139.67 L461.3,140.93 L461.5,143.87 L461.7,145.14 L461.9,145.84 L462.1,147.09 L462.3,143.2 L462.5,146.04 L462.7,144.3 L462.9,146.08 L463.1,144.13 L463.3,147.57 L463.5,143.56 L463.7,145.72 L463.9,143.52 L464.1,148.28 L464.3,144.57 L464.5,147.95 L464.7,146.87 L464.9,147.31 L465.1,147.44 L465.3,145.49 L465.5,147.18 L465.7,147.31 L465.9,146.81 L466.1,151.29 L466.3,145.13 L466.5,145.47 L466.7,148.45 L466.9,143.44 L467.1,149.74 L467.3,146.17 L467.5,145.68 L467.7,145.91 L467.9,148.94 L468.1,145.88 L468.3,147.1 L468.5,145.72 L468.7,144.65 L468.9,146.52 L469.1,145.22 L469.3,147.37 L469.5,150.17 L469.7,148.06 L469.9,150.28 L470.1,147.55 L470.3,145.82 L470.5,146 L470.7,142.8 L470.9,143.96 L471.1,145.91 L471.3,148.1 L471.5,143.17 L471.7,146 L471.9,143.62 L472.1,147 L472.3,145.21 L472.5,147.37 L472.7,147.34 L472.9,145.28 L473.1,145.46 L473.3,142.32 L473.5,144.4 L473.7,142.25 L473.9,144.3 L474.1,144.71 L474.3,140.86 L474.5,140.1 L474.7,142.86 L474.9,139.93 L475.1,144.72 L475.3,142.68 L475.5,142.32 L475.7,137.56 L475.9,143.02 L476.1,142.95 L476.3,141.25 L476.5,145.08 L476.7,136.29 L476.9,139.84 L477.1,139.43 L477.3,141.76 L477.5,135.09 L477.6,136.01 L477.7,136.51 L477.9,139.34 L478.1,139.89 L478.3,140.21 L478.5,140.95 L478.7,144.73 L478.9,140.96 L479.1,148.02 L479.3,142.34 L479.5,141.37 L479.7,140 L479.9,143.47 L480.1,144.51 L480.3,142.1 L480.5,145.25 L480.7,145.74 L480.9,146.49 L481.1,144.18 L481.3,148.4 L481.5,144.21 L481.7,142.81 L481.9,146.7 L482.1,145.21 L482.3,143.62 L482.5,142.7 L482.7,145.59 L482.9,147.32 L483.1,144.58 L483.3,145.33 L483.5,142.04 L483.7,143.07 L483.9,145.31 L484.1,144.37 L484.3,142.11 L484.5,144.47 L484.7,142.3 L484.9,142.79 L485.1,143.69 L485.3,143.42 L485.5,142.89 L485.7,143.44 L485.9,144.29 L486.1,144.73 L486.3,145.17 L486.5,140.23 L486.7,144.81 L486.9,146.15 L487.1,146.56 L487.3,145.06 L487.5,145.17 L487.7,146.53 L487.9,144.1 L488.1,142.07 L488.3,146.63 L488.5,147.31 L488.7,144.48 L488.9,146.04 L489.1,144.42 L489.3,142.02 L489.5,144.92" fill="none" stroke="#000" stroke-width="0.9" stroke-linejoin="round"/>
<path d="M302.7,191.6 302.7,189.64 303.1,189.7 303.5,190.06 303.9,189.72 304.3,189.74 304.7,190.13 305.1,189.65 305.5,189.19 305.9,189.61 306.3,189.3 306.7,189.36 307.1,189.69 307.5,189.75 307.9,189.59 308.3,189.1 308.7,189.28 309.1,189.9 309.5,189.16 309.9,189.7 310.3,189.7 310.7,189.34 311.1,189 311.5,189.82 311.9,189.43 312.3,189.79 312.7,189.33 313.1,189.34 313.5,189.36 313.9,189.01 314.3,189.69 314.7,189.44 315.1,189.84 315.5,189.77 315.9,189.46 316.3,189.93 316.7,189.72 317.1,189.52 317.5,189.37 317.9,189.91 318.3,188.97 318.7,189.78 319.1,189.57 319.5,189.88 319.9,189.73 320.3,189.9 320.7,190.51 321.1,190.14 321.5,189.44 321.9,189.6 322.3,190.1 322.7,189.48 323.1,189.28 323.5,189.3 323.9,190.16 324.3,190.23 324.7,190.14 325.1,189.95 325.5,189.79 325.9,189.45 326.3,190.15 326.7,189.57 327.1,189.5 327.5,189.51 327.9,189.17 328.3,189.14 328.7,189.91 329.1,189.74 329.5,189.21 329.9,190.13 330.3,189.92 330.7,189.61 331.1,188.82 331.5,189.93 331.9,189.29 332.3,189.61 332.7,189.72 333.1,189.2 333.5,189.78 333.9,189.37 334.3,189.98 334.7,189.51 335.1,189.52 335.5,189.71 335.9,189.63 336.3,189.3 336.7,189.74 337.1,189.36 337.5,189.28 337.9,189.52 338.3,189.59 338.7,189.55 339.1,189.27 339.5,189.43 339.9,189.7 340.3,189.45 340.7,190.31 341.1,189.67 341.5,189.78 341.9,188.88 342.3,189.66 342.7,189.22 343.1,189.54 343.5,189.13 343.9,189.36 344.3,189.31 344.7,189.73 345.1,189.55 345.5,189.66 345.9,189.26 346.3,189.8 346.7,190.21 347.1,189.8 347.5,189.67 347.9,190.01 348.3,189.61 348.7,189.65 349.1,189.27 349.5,189.48 349.9,189.58 350.3,189.61 350.7,189.49 351.1,189.52 351.5,189.86 351.9,189.28 352.3,189.28 352.7,189.35 353.1,189.61 353.5,189.12 353.9,189.18 354.3,189.46 354.7,189.56 355.1,189.53 355.5,188.99 355.9,189.77 356.3,189.9 356.7,189.54 357.1,189.62 357.5,189.23 357.9,189.32 358.3,189.48 358.7,189.39 359.1,189.4 359.5,190.11 359.9,189.43 360.3,189.83 360.7,189.42 361.1,189.3 361.5,190 361.9,189.46 362.3,189.63 362.7,189.64 363.1,189.92 363.5,189.28 363.9,189.79 364.3,189.38 364.7,189.79 365.1,189.41 365.5,189.13 365.9,189.18 366.3,189.82 366.7,189.27 367.1,189.39 367.5,189.32 367.9,189.37 368.3,189.81 368.7,189.66 369.1,189.77 369.5,189.84 369.9,189.44 370.3,189.76 370.7,190.34 371.1,189.29 371.5,190.25 371.9,189.7 372.3,189.82 372.7,189.65 373.1,189.5 373.5,189.85 373.9,190.15 374.3,190.35 374.7,189.37 375.1,189.72 375.5,189.29 375.9,189.52 376.3,189.73 376.7,189.66 377.1,189.4 377.5,189.29 377.9,189.11 378.3,189.8 378.7,189.4 379.1,189.75 379.5,189.4 379.9,189.27 380.3,189.61 380.7,189.47 381.1,189.47 381.5,188.85 381.9,189.83 382.3,189.22 382.7,189.15 383.1,189.83 383.5,189.42 383.9,189.83 384.3,188.93 384.7,189.69 385.1,189.4 385.5,189.84 385.9,189.97 386.3,190.03 386.7,190.28 387.1,190.43 387.5,189.45 387.9,190.08 388.3,189.89 388.7,189.39 389.1,189.64 389.5,189.11 389.9,189.99 390.3,189.16 390.7,190.06 391.1,189.94 391.5,189.78 391.9,189.69 392.3,190.17 392.7,189.51 393.1,189.68 393.5,189.83 393.9,189.64 394.3,189.61 394.7,190.46 395.1,189.75 395.5,189.65 395.9,189.36 396.3,189.57 396.7,189.42 397.1,189.44 397.5,189.35 397.9,189.3 398.3,189.5 398.7,189.75 399.1,189.41 399.5,189.98 399.9,189.7 400.3,189.68 400.7,189.61 401.1,189.39 401.5,189.87 401.9,189.16 402.3,190.11 402.7,189.68 403.1,189.24 403.5,189.94 403.9,189.66 404.3,189.62 404.7,189.87 405.1,189.49 405.5,189.62 405.9,189.87 406.3,189.56 406.7,189.14 407.1,189.56 407.5,189.97 407.9,189.24 408.3,189.57 408.7,189.51 409.1,189.94 409.5,189.22 409.9,188.75 410.3,189.12 410.7,189.91 411.1,189.25 411.5,189.37 411.9,189.28 412.3,189 412.7,189.41 413.1,189.76 413.5,188.83 413.9,189.7 414.3,189.38 414.7,189.27 415.1,189.95 415.5,189.94 415.9,189.81 416.3,189.28 416.7,189.82 417.1,189.36 417.5,189.91 417.9,189.73 418.3,189.56 418.7,189.38 419.1,189.32 419.5,189.39 419.9,190.04 420.3,189.3 420.7,189.56 421.1,189.43 421.5,189.06 421.9,189.27 422.3,188.92 422.7,189.58 423.1,188.91 423.5,189.63 423.9,189.55 424.3,189.85 424.7,189.7 425.1,189.57 425.5,190.16 425.9,189.22 426.3,189.34 426.7,189.38 427.1,189.82 427.5,189.29 427.9,189.52 428.3,189.28 428.7,189.8 429.1,189.74 429.5,189.36 429.9,190.35 430.3,189.58 430.7,189.76 431.1,189.48 431.5,189.44 431.9,189.43 432.3,189.41 432.7,189.37 433.1,189.26 433.5,189.82 433.9,189.63 434.3,189.1 434.7,189.75 435.1,189.44 435.5,189.33 435.9,189.12 436.3,189.57 436.7,190.07 437.1,189.76 437.5,189.97 437.9,189.62 438.3,190.03 438.7,189.41 439.1,189.31 439.5,188.86 439.9,189.35 440.3,189.22 440.7,189.56 441.1,189.02 441.5,189.19 441.9,189.33 442.3,189.46 442.7,188.7 443.1,189.63 443.5,189.57 443.9,189.85 444.3,189.19 444.7,189.1 445.1,189.55 445.5,189.23 445.9,189.14 446.3,189.24 446.7,189.38 447.1,189.15 447.5,189 447.9,189.75 448.3,189.43 448.7,189.26 449.1,189.83 449.5,189.24 449.9,189.25 450.3,189.44 450.7,189.24 451.1,189.79 451.5,190.41 451.9,189.3 452.3,189.42 452.7,190.03 453.1,189.76 453.5,189.65 453.9,189.77 454.3,189.86 454.7,189.78 455.1,189.5 455.5,189.52 455.9,189.36 456.3,189.37 456.7,189.41 457.1,189.89 457.5,189.19 457.9,188.89 458.3,189.84 458.7,189.58 459.1,189.31 459.5,189.84 459.9,189.25 460.3,189.54 460.7,189.45 461.1,189.49 461.5,190 461.9,189.71 462.3,189.69 462.7,189.68 463.1,189.39 463.5,190.09 463.9,190.09 464.3,189.61 464.7,190.11 465.1,189.77 465.5,189.54 465.9,189.92 466.3,189.88 466.7,189.02 467.1,189.21 467.5,189.25 467.9,189.67 468.3,189.53 468.7,189.42 469.1,189.6 469.5,189.55 469.9,189.98 470.3,189.64 470.7,189.89 471.1,189.77 471.5,189.73 471.9,189.64 472.3,189.65 472.7,189.99 473.1,189.26 473.5,189.68 473.9,189.81 474.3,189.54 474.7,189.44 475.1,189.71 475.5,189.76 475.9,189.98 476.3,189.8 476.7,190.03 477.1,189.35 477.5,189.55 477.9,189.6 478.3,189.92 478.7,189.37 479.1,189.04 479.5,189.62 479.9,189.44 480.3,189.21 480.7,189.24 481.1,189.42 481.5,189.66 481.9,189.63 482.3,189.55 482.7,189.81 483.1,189.28 483.5,189.8 483.9,189.15 484.3,190.12 484.7,189.92 485.1,189.2 485.5,189.22 485.9,189.58 486.3,189.29 486.7,189.36 487.1,189.33 487.5,189.8 487.9,189.6 488.3,189.16 488.7,189.56 489.1,190.03 489.5,189.54 489.9,190.06 490.3,190 490.7,189.23 491.1,189.8 491.5,190.05 491.9,189.55 492.3,189.63 492.7,189.38 493.1,190.03 493.5,189.2 493.9,189.81 494.3,189.41 494.7,189.62 495.1,189.64 495.5,189.33 495.9,189.59 496.3,189.39 496.7,189.67 497.1,189.55 497.5,188.85 497.9,188.82 498.3,189.93 498.7,189.21 499.1,189.01 499.5,189.66 499.9,189.08 500.3,189.01 500.7,189.6 501.1,189.79 501.5,188.72 501.9,189.24 502.3,189.32 502.7,189.71 503.1,188.38 503.5,189.34 503.9,189.17 504.3,189.09 504.7,188.91 505.1,189.66 505.5,189.36 L505.6,191.6Z" fill="#d00000" stroke="none"/>
<path d="M302.7,189.64 L303.1,189.7 L303.5,190.06 L303.9,189.72 L304.3,189.74 L304.7,190.13 L305.1,189.65 L305.5,189.19 L305.9,189.61 L306.3,189.3 L306.7,189.36 L307.1,189.69 L307.5,189.75 L307.9,189.59 L308.3,189.1 L308.7,189.28 L309.1,189.9 L309.5,189.16 L309.9,189.7 L310.3,189.7 L310.7,189.34 L311.1,189 L311.5,189.82 L311.9,189.43 L312.3,189.79 L312.7,189.33 L313.1,189.34 L313.5,189.36 L313.9,189.01 L314.3,189.69 L314.7,189.44 L315.1,189.84 L315.5,189.77 L315.9,189.46 L316.3,189.93 L316.7,189.72 L317.1,189.52 L317.5,189.37 L317.9,189.91 L318.3,188.97 L318.7,189.78 L319.1,189.57 L319.5,189.88 L319.9,189.73 L320.3,189.9 L320.7,190.51 L321.1,190.14 L321.5,189.44 L321.9,189.6 L322.3,190.1 L322.7,189.48 L323.1,189.28 L323.5,189.3 L323.9,190.16 L324.3,190.23 L324.7,190.14 L325.1,189.95 L325.5,189.79 L325.9,189.45 L326.3,190.15 L326.7,189.57 L327.1,189.5 L327.5,189.51 L327.9,189.17 L328.3,189.14 L328.7,189.91 L329.1,189.74 L329.5,189.21 L329.9,190.13 L330.3,189.92 L330.7,189.61 L331.1,188.82 L331.5,189.93 L331.9,189.29 L332.3,189.61 L332.7,189.72 L333.1,189.2 L333.5,189.78 L333.9,189.37 L334.3,189.98 L334.7,189.51 L335.1,189.52 L335.5,189.71 L335.9,189.63 L336.3,189.3 L336.7,189.74 L337.1,189.36 L337.5,189.28 L337.9,189.52 L338.3,189.59 L338.7,189.55 L339.1,189.27 L339.5,189.43 L339.9,189.7 L340.3,189.45 L340.7,190.31 L341.1,189.67 L341.5,189.78 L341.9,188.88 L342.3,189.66 L342.7,189.22 L343.1,189.54 L343.5,189.13 L343.9,189.36 L344.3,189.31 L344.7,189.73 L345.1,189.55 L345.5,189.66 L345.9,189.26 L346.3,189.8 L346.7,190.21 L347.1,189.8 L347.5,189.67 L347.9,190.01 L348.3,189.61 L348.7,189.65 L349.1,189.27 L349.5,189.48 L349.9,189.58 L350.3,189.61 L350.7,189.49 L351.1,189.52 L351.5,189.86 L351.9,189.28 L352.3,189.28 L352.7,189.35 L353.1,189.61 L353.5,189.12 L353.9,189.18 L354.3,189.46 L354.7,189.56 L355.1,189.53 L355.5,188.99 L355.9,189.77 L356.3,189.9 L356.7,189.54 L357.1,189.62 L357.5,189.23 L357.9,189.32 L358.3,189.48 L358.7,189.39 L359.1,189.4 L359.5,190.11 L359.9,189.43 L360.3,189.83 L360.7,189.42 L361.1,189.3 L361.5,190 L361.9,189.46 L362.3,189.63 L362.7,189.64 L363.1,189.92 L363.5,189.28 L363.9,189.79 L364.3,189.38 L364.7,189.79 L365.1,189.41 L365.5,189.13 L365.9,189.18 L366.3,189.82 L366.7,189.27 L367.1,189.39 L367.5,189.32 L367.9,189.37 L368.3,189.81 L368.7,189.66 L369.1,189.77 L369.5,189.84 L369.9,189.44 L370.3,189.76 L370.7,190.34 L371.1,189.29 L371.5,190.25 L371.9,189.7 L372.3,189.82 L372.7,189.65 L373.1,189.5 L373.5,189.85 L373.9,190.15 L374.3,190.35 L374.7,189.37 L375.1,189.72 L375.5,189.29 L375.9,189.52 L376.3,189.73 L376.7,189.66 L377.1,189.4 L377.5,189.29 L377.9,189.11 L378.3,189.8 L378.7,189.4 L379.1,189.75 L379.5,189.4 L379.9,189.27 L380.3,189.61 L380.7,189.47 L381.1,189.47 L381.5,188.85 L381.9,189.83 L382.3,189.22 L382.7,189.15 L383.1,189.83 L383.5,189.42 L383.9,189.83 L384.3,188.93 L384.7,189.69 L385.1,189.4 L385.5,189.84 L385.9,189.97 L386.3,190.03 L386.7,190.28 L387.1,190.43 L387.5,189.45 L387.9,190.08 L388.3,189.89 L388.7,189.39 L389.1,189.64 L389.5,189.11 L389.9,189.99 L390.3,189.16 L390.7,190.06 L391.1,189.94 L391.5,189.78 L391.9,189.69 L392.3,190.17 L392.7,189.51 L393.1,189.68 L393.5,189.83 L393.9,189.64 L394.3,189.61 L394.7,190.46 L395.1,189.75 L395.5,189.65 L395.9,189.36 L396.3,189.57 L396.7,189.42 L397.1,189.44 L397.5,189.35 L397.9,189.3 L398.3,189.5 L398.7,189.75 L399.1,189.41 L399.5,189.98 L399.9,189.7 L400.3,189.68 L400.7,189.61 L401.1,189.39 L401.5,189.87 L401.9,189.16 L402.3,190.11 L402.7,189.68 L403.1,189.24 L403.5,189.94 L403.9,189.66 L404.3,189.62 L404.7,189.87 L405.1,189.49 L405.5,189.62 L405.9,189.87 L406.3,189.56 L406.7,189.14 L407.1,189.56 L407.5,189.97 L407.9,189.24 L408.3,189.57 L408.7,189.51 L409.1,189.94 L409.5,189.22 L409.9,188.75 L410.3,189.12 L410.7,189.91 L411.1,189.25 L411.5,189.37 L411.9,189.28 L412.3,189 L412.7,189.41 L413.1,189.76 L413.5,188.83 L413.9,189.7 L414.3,189.38 L414.7,189.27 L415.1,189.95 L415.5,189.94 L415.9,189.81 L416.3,189.28 L416.7,189.82 L417.1,189.36 L417.5,189.91 L417.9,189.73 L418.3,189.56 L418.7,189.38 L419.1,189.32 L419.5,189.39 L419.9,190.04 L420.3,189.3 L420.7,189.56 L421.1,189.43 L421.5,189.06 L421.9,189.27 L422.3,188.92 L422.7,189.58 L423.1,188.91 L423.5,189.63 L423.9,189.55 L424.3,189.85 L424.7,189.7 L425.1,189.57 L425.5,190.16 L425.9,189.22 L426.3,189.34 L426.7,189.38 L427.1,189.82 L427.5,189.29 L427.9,189.52 L428.3,189.28 L428.7,189.8 L429.1,189.74 L429.5,189.36 L429.9,190.35 L430.3,189.58 L430.7,189.76 L431.1,189.48 L431.5,189.44 L431.9,189.43 L432.3,189.41 L432.7,189.37 L433.1,189.26 L433.5,189.82 L433.9,189.63 L434.3,189.1 L434.7,189.75 L435.1,189.44 L435.5,189.33 L435.9,189.12 L436.3,189.57 L436.7,190.07 L437.1,189.76 L437.5,189.97 L437.9,189.62 L438.3,190.03 L438.7,189.41 L439.1,189.31 L439.5,188.86 L439.9,189.35 L440.3,189.22 L440.7,189.56 L441.1,189.02 L441.5,189.19 L441.9,189.33 L442.3,189.46 L442.7,188.7 L443.1,189.63 L443.5,189.57 L443.9,189.85 L444.3,189.19 L444.7,189.1 L445.1,189.55 L445.5,189.23 L445.9,189.14 L446.3,189.24 L446.7,189.38 L447.1,189.15 L447.5,189 L447.9,189.75 L448.3,189.43 L448.7,189.26 L449.1,189.83 L449.5,189.24 L449.9,189.25 L450.3,189.44 L450.7,189.24 L451.1,189.79 L451.5,190.41 L451.9,189.3 L452.3,189.42 L452.7,190.03 L453.1,189.76 L453.5,189.65 L453.9,189.77 L454.3,189.86 L454.7,189.78 L455.1,189.5 L455.5,189.52 L455.9,189.36 L456.3,189.37 L456.7,189.41 L457.1,189.89 L457.5,189.19 L457.9,188.89 L458.3,189.84 L458.7,189.58 L459.1,189.31 L459.5,189.84 L459.9,189.25 L460.3,189.54 L460.7,189.45 L461.1,189.49 L461.5,190 L461.9,189.71 L462.3,189.69 L462.7,189.68 L463.1,189.39 L463.5,190.09 L463.9,190.09 L464.3,189.61 L464.7,190.11 L465.1,189.77 L465.5,189.54 L465.9,189.92 L466.3,189.88 L466.7,189.02 L467.1,189.21 L467.5,189.25 L467.9,189.67 L468.3,189.53 L468.7,189.42 L469.1,189.6 L469.5,189.55 L469.9,189.98 L470.3,189.64 L470.7,189.89 L471.1,189.77 L471.5,189.73 L471.9,189.64 L472.3,189.65 L472.7,189.99 L473.1,189.26 L473.5,189.68 L473.9,189.81 L474.3,189.54 L474.7,189.44 L475.1,189.71 L475.5,189.76 L475.9,189.98 L476.3,189.8 L476.7,190.03 L477.1,189.35 L477.5,189.55 L477.9,189.6 L478.3,189.92 L478.7,189.37 L479.1,189.04 L479.5,189.62 L479.9,189.44 L480.3,189.21 L480.7,189.24 L481.1,189.42 L481.5,189.66 L481.9,189.63 L482.3,189.55 L482.7,189.81 L483.1,189.28 L483.5,189.8 L483.9,189.15 L484.3,190.12 L484.7,189.92 L485.1,189.2 L485.5,189.22 L485.9,189.58 L486.3,189.29 L486.7,189.36 L487.1,189.33 L487.5,189.8 L487.9,189.6 L488.3,189.16 L488.7,189.56 L489.1,190.03 L489.5,189.54 L489.9,190.06 L490.3,190 L490.7,189.23 L491.1,189.8 L491.5,190.05 L491.9,189.55 L492.3,189.63 L492.7,189.38 L493.1,190.03 L493.5,189.2 L493.9,189.81 L494.3,189.41 L494.7,189.62 L495.1,189.64 L495.5,189.33 L495.9,189.59 L496.3,189.39 L496.7,189.67 L497.1,189.55 L497.5,188.85 L497.9,188.82 L498.3,189.93 L498.7,189.21 L499.1,189.01 L499.5,189.66 L499.9,189.08 L500.3,189.01 L500.7,189.6 L501.1,189.79 L501.5,188.72 L501.9,189.24 L502.3,189.32 L502.7,189.71 L503.1,188.38 L503.5,189.34 L503.9,189.17 L504.3,189.09 L504.7,188.91 L505.1,189.66 L505.5,189.36" fill="none" stroke="#000" stroke-width="2.0" stroke-linejoin="round"/>
<line x1="38.8" y1="209.2" x2="236.7" y2="209.2" stroke="#888" stroke-width="1.0"/>
<line x1="40.48" y1="209.2" x2="40.48" y2="210.9" stroke="#444" stroke-width="0.8"/>
<line x1="45.14" y1="209.2" x2="45.14" y2="210.9" stroke="#444" stroke-width="0.8"/>
<line x1="49.8" y1="209.2" x2="49.8" y2="212" stroke="#444" stroke-width="0.8"/>
<line x1="54.46" y1="209.2" x2="54.46" y2="210.9" stroke="#444" stroke-width="0.8"/>
<line x1="59.12" y1="209.2" x2="59.12" y2="210.9" stroke="#444" stroke-width="0.8"/>
<line x1="63.78" y1="209.2" x2="63.78" y2="210.9" stroke="#444" stroke-width="0.8"/>
<line x1="68.44" y1="209.2" x2="68.44" y2="210.9" stroke="#444" stroke-width="0.8"/>
<line x1="73.1" y1="209.2" x2="73.1" y2="212" stroke="#444" stroke-width="0.8"/>
<line x1="77.76" y1="209.2" x2="77.76" y2="210.9" stroke="#444" stroke-width="0.8"/>
<line x1="82.42" y1="209.2" x2="82.42" y2="210.9" stroke="#444" stroke-width="0.8"/>
<line x1="87.08" y1="209.2" x2="87.08" y2="210.9" stroke="#444" stroke-width="0.8"/>
<line x1="91.74" y1="209.2" x2="91.74" y2="210.9" stroke="#444" stroke-width="0.8"/>
<line x1="96.4" y1="209.2" x2="96.4" y2="212" stroke="#444" stroke-width="0.8"/>
<line x1="101.06" y1="209.2" x2="101.06" y2="210.9" stroke="#444" stroke-width="0.8"/>
<line x1="105.72" y1="209.2" x2="105.72" y2="210.9" stroke="#444" stroke-width="0.8"/>
<line x1="110.38" y1="209.2" x2="110.38" y2="210.9" stroke="#444" stroke-width="0.8"/>
<line x1="115.04" y1="209.2" x2="115.04" y2="210.9" stroke="#444" stroke-width="0.8"/>
<line x1="119.7" y1="209.2" x2="119.7" y2="212" stroke="#444" stroke-width="0.8"/>
<line x1="124.36" y1="209.2" x2="124.36" y2="210.9" stroke="#444" stroke-width="0.8"/>
<line x1="129.02" y1="209.2" x2="129.02" y2="210.9" stroke="#444" stroke-width="0.8"/>
<line x1="133.68" y1="209.2" x2="133.68" y2="210.9" stroke="#444" stroke-width="0.8"/>
<line x1="138.34" y1="209.2" x2="138.34" y2="210.9" stroke="#444" stroke-width="0.8"/>
<line x1="143" y1="209.2" x2="143" y2="212" stroke="#444" stroke-width="0.8"/>
<line x1="147.66" y1="209.2" x2="147.66" y2="210.9" stroke="#444" stroke-width="0.8"/>
<line x1="152.32" y1="209.2" x2="152.32" y2="210.9" stroke="#444" stroke-width="0.8"/>
<line x1="156.98" y1="209.2" x2="156.98" y2="210.9" stroke="#444" stroke-width="0.8"/>
<line x1="161.64" y1="209.2" x2="161.64" y2="210.9" stroke="#444" stroke-width="0.8"/>
<line x1="166.3" y1="209.2" x2="166.3" y2="212" stroke="#444" stroke-width="0.8"/>
<line x1="170.96" y1="209.2" x2="170.96" y2="210.9" stroke="#444" stroke-width="0.8"/>
<line x1="175.62" y1="209.2" x2="175.62" y2="210.9" stroke="#444" stroke-width="0.8"/>
<line x1="180.28" y1="209.2" x2="180.28" y2="210.9" stroke="#444" stroke-width="0.8"/>
<line x1="184.94" y1="209.2" x2="184.94" y2="210.9" stroke="#444" stroke-width="0.8"/>
<line x1="189.6" y1="209.2" x2="189.6" y2="212" stroke="#444" stroke-width="0.8"/>
<line x1="194.26" y1="209.2" x2="194.26" y2="210.9" stroke="#444" stroke-width="0.8"/>
<line x1="198.92" y1="209.2" x2="198.92" y2="210.9" stroke="#444" stroke-width="0.8"/>
<line x1="203.58" y1="209.2" x2="203.58" y2="210.9" stroke="#444" stroke-width="0.8"/>
<line x1="208.24" y1="209.2" x2="208.24" y2="210.9" stroke="#444" stroke-width="0.8"/>
<line x1="212.9" y1="209.2" x2="212.9" y2="212" stroke="#444" stroke-width="0.8"/>
<line x1="217.56" y1="209.2" x2="217.56" y2="210.9" stroke="#444" stroke-width="0.8"/>
<line x1="222.22" y1="209.2" x2="222.22" y2="210.9" stroke="#444" stroke-width="0.8"/>
<line x1="226.88" y1="209.2" x2="226.88" y2="210.9" stroke="#444" stroke-width="0.8"/>
<line x1="231.54" y1="209.2" x2="231.54" y2="210.9" stroke="#444" stroke-width="0.8"/>
<line x1="236.2" y1="209.2" x2="236.2" y2="212" stroke="#444" stroke-width="0.8"/>
<text transform="translate(49.8,220.2) scale(1,1.15)" font-size="8" text-anchor="middle">400</text>
<text transform="translate(73.1,220.2) scale(1,1.15)" font-size="8" text-anchor="middle">800</text>
<text transform="translate(96.4,220.2) scale(1,1.15)" font-size="8" text-anchor="middle">1200</text>
<text transform="translate(119.7,220.2) scale(1,1.15)" font-size="8" text-anchor="middle">1600</text>
<text transform="translate(143,220.2) scale(1,1.15)" font-size="8" text-anchor="middle">2000</text>
<text transform="translate(166.3,220.2) scale(1,1.15)" font-size="8" text-anchor="middle">2400</text>
<text transform="translate(189.6,220.2) scale(1,1.15)" font-size="8" text-anchor="middle">2800</text>
<text transform="translate(212.9,220.2) scale(1,1.15)" font-size="8" text-anchor="middle">3200</text>
<text transform="translate(236.2,220.2) scale(1,1.15)" font-size="8" text-anchor="middle">3600</text>
<text transform="translate(99.3,233.5) scale(1,1.15)" font-size="8" text-anchor="start">Wavenumber [1/cm]</text>
<line x1="236.7" y1="209.2" x2="236.7" y2="122.4" stroke="#aaa" stroke-width="0.9"/>
<line x1="236.7" y1="209.2" x2="239.5" y2="209.2" stroke="#444" stroke-width="0.8"/>
<line x1="236.7" y1="205.66" x2="238.3" y2="205.66" stroke="#444" stroke-width="0.8"/>
<line x1="236.7" y1="202.12" x2="238.3" y2="202.12" stroke="#444" stroke-width="0.8"/>
<line x1="236.7" y1="198.58" x2="238.3" y2="198.58" stroke="#444" stroke-width="0.8"/>
<line x1="236.7" y1="195.04" x2="238.3" y2="195.04" stroke="#444" stroke-width="0.8"/>
<line x1="236.7" y1="191.5" x2="239.5" y2="191.5" stroke="#444" stroke-width="0.8"/>
<line x1="236.7" y1="187.96" x2="238.3" y2="187.96" stroke="#444" stroke-width="0.8"/>
<line x1="236.7" y1="184.42" x2="238.3" y2="184.42" stroke="#444" stroke-width="0.8"/>
<line x1="236.7" y1="180.88" x2="238.3" y2="180.88" stroke="#444" stroke-width="0.8"/>
<line x1="236.7" y1="177.34" x2="238.3" y2="177.34" stroke="#444" stroke-width="0.8"/>
<line x1="236.7" y1="173.8" x2="239.5" y2="173.8" stroke="#444" stroke-width="0.8"/>
<line x1="236.7" y1="170.26" x2="238.3" y2="170.26" stroke="#444" stroke-width="0.8"/>
<line x1="236.7" y1="166.72" x2="238.3" y2="166.72" stroke="#444" stroke-width="0.8"/>
<line x1="236.7" y1="163.18" x2="238.3" y2="163.18" stroke="#444" stroke-width="0.8"/>
<line x1="236.7" y1="159.64" x2="238.3" y2="159.64" stroke="#444" stroke-width="0.8"/>
<line x1="236.7" y1="156.1" x2="239.5" y2="156.1" stroke="#444" stroke-width="0.8"/>
<line x1="236.7" y1="152.56" x2="238.3" y2="152.56" stroke="#444" stroke-width="0.8"/>
<line x1="236.7" y1="149.02" x2="238.3" y2="149.02" stroke="#444" stroke-width="0.8"/>
<line x1="236.7" y1="145.48" x2="238.3" y2="145.48" stroke="#444" stroke-width="0.8"/>
<line x1="236.7" y1="141.94" x2="238.3" y2="141.94" stroke="#444" stroke-width="0.8"/>
<line x1="236.7" y1="138.4" x2="239.5" y2="138.4" stroke="#444" stroke-width="0.8"/>
<line x1="236.7" y1="134.86" x2="238.3" y2="134.86" stroke="#444" stroke-width="0.8"/>
<line x1="236.7" y1="131.32" x2="238.3" y2="131.32" stroke="#444" stroke-width="0.8"/>
<line x1="236.7" y1="127.78" x2="238.3" y2="127.78" stroke="#444" stroke-width="0.8"/>
<line x1="236.7" y1="124.24" x2="238.3" y2="124.24" stroke="#444" stroke-width="0.8"/>
<text transform="translate(244.5,211.6) scale(1,1.15)" font-size="8" text-anchor="start">0,0</text>
<text transform="translate(244.5,193.9) scale(1,1.15)" font-size="8" text-anchor="start">3,4</text>
<text transform="translate(244.5,176.2) scale(1,1.15)" font-size="8" text-anchor="start">6,8</text>
<text transform="translate(244.5,158.5) scale(1,1.15)" font-size="8" text-anchor="start">10,2</text>
<text transform="translate(244.5,140.8) scale(1,1.15)" font-size="8" text-anchor="start">13,6</text>
<text transform="translate(268.9,233.4) rotate(-90) scale(1,1.07)" font-size="8.68">Raman Intensity [cts/s x 10^3]</text>
<line x1="311.5" y1="210.5" x2="514.5" y2="210.5" stroke="#888" stroke-width="1.0"/>
<line x1="312.68" y1="210.5" x2="312.68" y2="212.2" stroke="#444" stroke-width="0.8"/>
<line x1="317.49" y1="210.5" x2="317.49" y2="212.2" stroke="#444" stroke-width="0.8"/>
<line x1="322.3" y1="210.5" x2="322.3" y2="213.3" stroke="#444" stroke-width="0.8"/>
<line x1="327.11" y1="210.5" x2="327.11" y2="212.2" stroke="#444" stroke-width="0.8"/>
<line x1="331.92" y1="210.5" x2="331.92" y2="212.2" stroke="#444" stroke-width="0.8"/>
<line x1="336.72" y1="210.5" x2="336.72" y2="212.2" stroke="#444" stroke-width="0.8"/>
<line x1="341.53" y1="210.5" x2="341.53" y2="212.2" stroke="#444" stroke-width="0.8"/>
<line x1="346.34" y1="210.5" x2="346.34" y2="213.3" stroke="#444" stroke-width="0.8"/>
<line x1="351.15" y1="210.5" x2="351.15" y2="212.2" stroke="#444" stroke-width="0.8"/>
<line x1="355.96" y1="210.5" x2="355.96" y2="212.2" stroke="#444" stroke-width="0.8"/>
<line x1="360.76" y1="210.5" x2="360.76" y2="212.2" stroke="#444" stroke-width="0.8"/>
<line x1="365.57" y1="210.5" x2="365.57" y2="212.2" stroke="#444" stroke-width="0.8"/>
<line x1="370.38" y1="210.5" x2="370.38" y2="213.3" stroke="#444" stroke-width="0.8"/>
<line x1="375.19" y1="210.5" x2="375.19" y2="212.2" stroke="#444" stroke-width="0.8"/>
<line x1="380" y1="210.5" x2="380" y2="212.2" stroke="#444" stroke-width="0.8"/>
<line x1="384.8" y1="210.5" x2="384.8" y2="212.2" stroke="#444" stroke-width="0.8"/>
<line x1="389.61" y1="210.5" x2="389.61" y2="212.2" stroke="#444" stroke-width="0.8"/>
<line x1="394.42" y1="210.5" x2="394.42" y2="213.3" stroke="#444" stroke-width="0.8"/>
<line x1="399.23" y1="210.5" x2="399.23" y2="212.2" stroke="#444" stroke-width="0.8"/>
<line x1="404.04" y1="210.5" x2="404.04" y2="212.2" stroke="#444" stroke-width="0.8"/>
<line x1="408.84" y1="210.5" x2="408.84" y2="212.2" stroke="#444" stroke-width="0.8"/>
<line x1="413.65" y1="210.5" x2="413.65" y2="212.2" stroke="#444" stroke-width="0.8"/>
<line x1="418.46" y1="210.5" x2="418.46" y2="213.3" stroke="#444" stroke-width="0.8"/>
<line x1="423.27" y1="210.5" x2="423.27" y2="212.2" stroke="#444" stroke-width="0.8"/>
<line x1="428.08" y1="210.5" x2="428.08" y2="212.2" stroke="#444" stroke-width="0.8"/>
<line x1="432.88" y1="210.5" x2="432.88" y2="212.2" stroke="#444" stroke-width="0.8"/>
<line x1="437.69" y1="210.5" x2="437.69" y2="212.2" stroke="#444" stroke-width="0.8"/>
<line x1="442.5" y1="210.5" x2="442.5" y2="213.3" stroke="#444" stroke-width="0.8"/>
<line x1="447.31" y1="210.5" x2="447.31" y2="212.2" stroke="#444" stroke-width="0.8"/>
<line x1="452.12" y1="210.5" x2="452.12" y2="212.2" stroke="#444" stroke-width="0.8"/>
<line x1="456.92" y1="210.5" x2="456.92" y2="212.2" stroke="#444" stroke-width="0.8"/>
<line x1="461.73" y1="210.5" x2="461.73" y2="212.2" stroke="#444" stroke-width="0.8"/>
<line x1="466.54" y1="210.5" x2="466.54" y2="213.3" stroke="#444" stroke-width="0.8"/>
<line x1="471.35" y1="210.5" x2="471.35" y2="212.2" stroke="#444" stroke-width="0.8"/>
<line x1="476.16" y1="210.5" x2="476.16" y2="212.2" stroke="#444" stroke-width="0.8"/>
<line x1="480.96" y1="210.5" x2="480.96" y2="212.2" stroke="#444" stroke-width="0.8"/>
<line x1="485.77" y1="210.5" x2="485.77" y2="212.2" stroke="#444" stroke-width="0.8"/>
<line x1="490.58" y1="210.5" x2="490.58" y2="213.3" stroke="#444" stroke-width="0.8"/>
<line x1="495.39" y1="210.5" x2="495.39" y2="212.2" stroke="#444" stroke-width="0.8"/>
<line x1="500.2" y1="210.5" x2="500.2" y2="212.2" stroke="#444" stroke-width="0.8"/>
<line x1="505" y1="210.5" x2="505" y2="212.2" stroke="#444" stroke-width="0.8"/>
<line x1="509.81" y1="210.5" x2="509.81" y2="212.2" stroke="#444" stroke-width="0.8"/>
<text transform="translate(322.3,222.2) scale(1,1.15)" font-size="8" text-anchor="middle">400</text>
<text transform="translate(346.34,222.2) scale(1,1.15)" font-size="8" text-anchor="middle">800</text>
<text transform="translate(370.38,222.2) scale(1,1.15)" font-size="8" text-anchor="middle">1200</text>
<text transform="translate(394.42,222.2) scale(1,1.15)" font-size="8" text-anchor="middle">1600</text>
<text transform="translate(418.46,222.2) scale(1,1.15)" font-size="8" text-anchor="middle">2000</text>
<text transform="translate(442.5,222.2) scale(1,1.15)" font-size="8" text-anchor="middle">2400</text>
<text transform="translate(466.54,222.2) scale(1,1.15)" font-size="8" text-anchor="middle">2800</text>
<text transform="translate(490.58,222.2) scale(1,1.15)" font-size="8" text-anchor="middle">3200</text>
<text transform="translate(514.62,222.2) scale(1,1.15)" font-size="8" text-anchor="middle">3600</text>
<text transform="translate(374.8,232.1) scale(1,1.15)" font-size="8" text-anchor="start">Wavenumber [1/cm]</text>
<line x1="514.5" y1="210.5" x2="514.5" y2="121.5" stroke="#aaa" stroke-width="0.9"/>
<line x1="514.5" y1="210.5" x2="517.3" y2="210.5" stroke="#444" stroke-width="0.8"/>
<line x1="514.5" y1="206.96" x2="516.1" y2="206.96" stroke="#444" stroke-width="0.8"/>
<line x1="514.5" y1="203.42" x2="516.1" y2="203.42" stroke="#444" stroke-width="0.8"/>
<line x1="514.5" y1="199.88" x2="516.1" y2="199.88" stroke="#444" stroke-width="0.8"/>
<line x1="514.5" y1="196.34" x2="516.1" y2="196.34" stroke="#444" stroke-width="0.8"/>
<line x1="514.5" y1="192.8" x2="517.3" y2="192.8" stroke="#444" stroke-width="0.8"/>
<line x1="514.5" y1="189.26" x2="516.1" y2="189.26" stroke="#444" stroke-width="0.8"/>
<line x1="514.5" y1="185.72" x2="516.1" y2="185.72" stroke="#444" stroke-width="0.8"/>
<line x1="514.5" y1="182.18" x2="516.1" y2="182.18" stroke="#444" stroke-width="0.8"/>
<line x1="514.5" y1="178.64" x2="516.1" y2="178.64" stroke="#444" stroke-width="0.8"/>
<line x1="514.5" y1="175.1" x2="517.3" y2="175.1" stroke="#444" stroke-width="0.8"/>
<line x1="514.5" y1="171.56" x2="516.1" y2="171.56" stroke="#444" stroke-width="0.8"/>
<line x1="514.5" y1="168.02" x2="516.1" y2="168.02" stroke="#444" stroke-width="0.8"/>
<line x1="514.5" y1="164.48" x2="516.1" y2="164.48" stroke="#444" stroke-width="0.8"/>
<line x1="514.5" y1="160.94" x2="516.1" y2="160.94" stroke="#444" stroke-width="0.8"/>
<line x1="514.5" y1="157.4" x2="517.3" y2="157.4" stroke="#444" stroke-width="0.8"/>
<line x1="514.5" y1="153.86" x2="516.1" y2="153.86" stroke="#444" stroke-width="0.8"/>
<line x1="514.5" y1="150.32" x2="516.1" y2="150.32" stroke="#444" stroke-width="0.8"/>
<line x1="514.5" y1="146.78" x2="516.1" y2="146.78" stroke="#444" stroke-width="0.8"/>
<line x1="514.5" y1="143.24" x2="516.1" y2="143.24" stroke="#444" stroke-width="0.8"/>
<line x1="514.5" y1="139.7" x2="517.3" y2="139.7" stroke="#444" stroke-width="0.8"/>
<line x1="514.5" y1="136.16" x2="516.1" y2="136.16" stroke="#444" stroke-width="0.8"/>
<line x1="514.5" y1="132.62" x2="516.1" y2="132.62" stroke="#444" stroke-width="0.8"/>
<line x1="514.5" y1="129.08" x2="516.1" y2="129.08" stroke="#444" stroke-width="0.8"/>
<line x1="514.5" y1="125.54" x2="516.1" y2="125.54" stroke="#444" stroke-width="0.8"/>
<line x1="514.5" y1="122" x2="517.3" y2="122" stroke="#444" stroke-width="0.8"/>
<text transform="translate(518.8,211.5) scale(1,1.15)" font-size="8" text-anchor="start">0</text>
<text transform="translate(518.8,193.8) scale(1,1.15)" font-size="8" text-anchor="start">2</text>
<text transform="translate(518.8,176.1) scale(1,1.15)" font-size="8" text-anchor="start">4</text>
<text transform="translate(518.8,158.4) scale(1,1.15)" font-size="8" text-anchor="start">6</text>
<text transform="translate(518.8,140.7) scale(1,1.15)" font-size="8" text-anchor="start">8</text>
<text transform="translate(536,228.7) rotate(-90) scale(1,1.1)" font-size="8">Raman Intensity [cts/s x 10^3]</text>
<rect x="61" y="157" width="151.8" height="7" fill="#fff"/>
<rect x="147.4" y="193.8" width="80.9" height="7" fill="#fff"/>
<rect x="325.7" y="155.8" width="162.5" height="7" fill="#fff"/>
<rect x="439.1" y="194.7" width="66.3" height="7" fill="#fff"/>
<text transform="translate(61.2,162.8) scale(1,1.15)" font-size="8" text-anchor="start">noncancerous with N-TiO<tspan font-size="4.3" dx="0.8" dy="2.6">2</tspan><tspan dx="0.5" dy="-2.6"> EB irradiated</tspan></text>
<text transform="translate(147.6,199.6) scale(1,1.15)" font-size="8" text-anchor="start">noncancerous tissue</text>
<text transform="translate(325.9,161.6) scale(1,1.15)" font-size="8" text-anchor="start">cancerous tissue with N-TiO<tspan font-size="4.3" dx="0.8" dy="2.6">2</tspan><tspan dx="0.5" dy="-2.6"> EB irradiated</tspan></text>
<text transform="translate(439.3,200.5) scale(1,1.15)" font-size="8" text-anchor="start">cancerous tissue</text>
</svg></body></html>
